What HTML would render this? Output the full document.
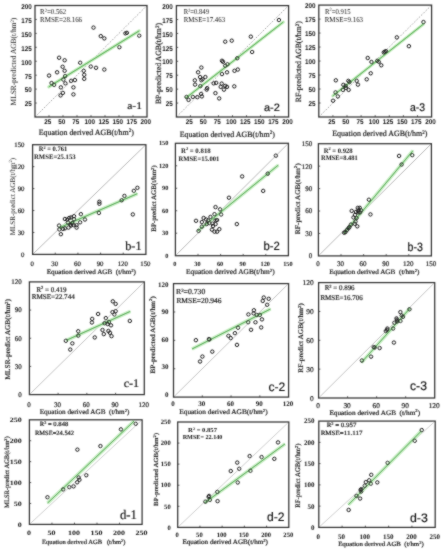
<!DOCTYPE html>
<html><head><meta charset="utf-8"><style>
html,body{margin:0;padding:0;background:#fff;}
svg{display:block;}
text{white-space:pre;}
</style></head><body>
<svg width="446" height="550" viewBox="0 0 446 550" text-rendering="geometricPrecision">
<defs><filter id="bl" filterUnits="userSpaceOnUse" x="0" y="0" width="446" height="550"><feConvolveMatrix order="3" kernelMatrix="1 2 1 2 16 2 1 2 1" divisor="28" edgeMode="duplicate"/></filter></defs>
<rect width="446" height="550" fill="#fff"/>
<g filter="url(#bl)">
<g>
<line x1="35" y1="117" x2="147" y2="5.5" stroke="#7c7c7c" stroke-width="0.7" stroke-dasharray="1.7 1.5"/>
<line x1="48.81" y1="86.87" x2="139.22" y2="30.87" stroke="#bfeab8" stroke-width="3.0" stroke-linecap="round"/>
<line x1="48.81" y1="86.87" x2="139.22" y2="30.87" stroke="#46a846" stroke-width="1.0"/>
<circle cx="93.51" cy="27.6" r="1.7" fill="none" stroke="#1c1c1c" stroke-width="1"/>
<circle cx="100.79" cy="36.14" r="1.7" fill="none" stroke="#1c1c1c" stroke-width="1"/>
<circle cx="104.31" cy="38.4" r="1.7" fill="none" stroke="#1c1c1c" stroke-width="1"/>
<circle cx="125.4" cy="33.38" r="1.7" fill="none" stroke="#1c1c1c" stroke-width="1"/>
<circle cx="126.91" cy="32.87" r="1.7" fill="none" stroke="#1c1c1c" stroke-width="1"/>
<circle cx="139.22" cy="35.64" r="1.7" fill="none" stroke="#1c1c1c" stroke-width="1"/>
<circle cx="119.38" cy="47.19" r="1.7" fill="none" stroke="#1c1c1c" stroke-width="1"/>
<circle cx="59.11" cy="57.74" r="1.7" fill="none" stroke="#1c1c1c" stroke-width="1"/>
<circle cx="64.63" cy="60.25" r="1.7" fill="none" stroke="#1c1c1c" stroke-width="1"/>
<circle cx="80.2" cy="62.76" r="1.7" fill="none" stroke="#1c1c1c" stroke-width="1"/>
<circle cx="62.62" cy="66.78" r="1.7" fill="none" stroke="#1c1c1c" stroke-width="1"/>
<circle cx="64.63" cy="70.79" r="1.7" fill="none" stroke="#1c1c1c" stroke-width="1"/>
<circle cx="90.75" cy="66.52" r="1.7" fill="none" stroke="#1c1c1c" stroke-width="1"/>
<circle cx="96.02" cy="67.78" r="1.7" fill="none" stroke="#1c1c1c" stroke-width="1"/>
<circle cx="104.31" cy="69.54" r="1.7" fill="none" stroke="#1c1c1c" stroke-width="1"/>
<circle cx="83.72" cy="70.79" r="1.7" fill="none" stroke="#1c1c1c" stroke-width="1"/>
<circle cx="84.22" cy="74.81" r="1.7" fill="none" stroke="#1c1c1c" stroke-width="1"/>
<circle cx="57.1" cy="72.3" r="1.7" fill="none" stroke="#1c1c1c" stroke-width="1"/>
<circle cx="49.06" cy="75.57" r="1.7" fill="none" stroke="#1c1c1c" stroke-width="1"/>
<circle cx="65.13" cy="76.07" r="1.7" fill="none" stroke="#1c1c1c" stroke-width="1"/>
<circle cx="63.38" cy="79.58" r="1.7" fill="none" stroke="#1c1c1c" stroke-width="1"/>
<circle cx="84.22" cy="78.83" r="1.7" fill="none" stroke="#1c1c1c" stroke-width="1"/>
<circle cx="51.57" cy="83.1" r="1.7" fill="none" stroke="#1c1c1c" stroke-width="1"/>
<circle cx="54.09" cy="84.86" r="1.7" fill="none" stroke="#1c1c1c" stroke-width="1"/>
<circle cx="65.39" cy="83.35" r="1.7" fill="none" stroke="#1c1c1c" stroke-width="1"/>
<circle cx="71.16" cy="80.84" r="1.7" fill="none" stroke="#1c1c1c" stroke-width="1"/>
<circle cx="74.93" cy="80.09" r="1.7" fill="none" stroke="#1c1c1c" stroke-width="1"/>
<circle cx="60.87" cy="87.37" r="1.7" fill="none" stroke="#1c1c1c" stroke-width="1"/>
<circle cx="73.42" cy="87.37" r="1.7" fill="none" stroke="#1c1c1c" stroke-width="1"/>
<circle cx="62.87" cy="92.89" r="1.7" fill="none" stroke="#1c1c1c" stroke-width="1"/>
<circle cx="60.61" cy="95.4" r="1.7" fill="none" stroke="#1c1c1c" stroke-width="1"/>
<circle cx="73.42" cy="94.4" r="1.7" fill="none" stroke="#1c1c1c" stroke-width="1"/>
<rect x="35" y="5.5" width="112" height="111.5" fill="none" stroke="#333" stroke-width="1.25"/>
<line x1="49" y1="117" x2="49" y2="115.2" stroke="#3a3a3a" stroke-width="0.8"/>
<line x1="35" y1="103.06" x2="36.8" y2="103.06" stroke="#3a3a3a" stroke-width="0.8"/>
<line x1="63" y1="117" x2="63" y2="115.2" stroke="#3a3a3a" stroke-width="0.8"/>
<line x1="35" y1="89.12" x2="36.8" y2="89.12" stroke="#3a3a3a" stroke-width="0.8"/>
<line x1="77" y1="117" x2="77" y2="115.2" stroke="#3a3a3a" stroke-width="0.8"/>
<line x1="35" y1="75.19" x2="36.8" y2="75.19" stroke="#3a3a3a" stroke-width="0.8"/>
<line x1="91" y1="117" x2="91" y2="115.2" stroke="#3a3a3a" stroke-width="0.8"/>
<line x1="35" y1="61.25" x2="36.8" y2="61.25" stroke="#3a3a3a" stroke-width="0.8"/>
<line x1="105" y1="117" x2="105" y2="115.2" stroke="#3a3a3a" stroke-width="0.8"/>
<line x1="35" y1="47.31" x2="36.8" y2="47.31" stroke="#3a3a3a" stroke-width="0.8"/>
<line x1="119" y1="117" x2="119" y2="115.2" stroke="#3a3a3a" stroke-width="0.8"/>
<line x1="35" y1="33.38" x2="36.8" y2="33.38" stroke="#3a3a3a" stroke-width="0.8"/>
<line x1="133" y1="117" x2="133" y2="115.2" stroke="#3a3a3a" stroke-width="0.8"/>
<line x1="35" y1="19.44" x2="36.8" y2="19.44" stroke="#3a3a3a" stroke-width="0.8"/>
<text x="47.8" y="124.3" text-anchor="middle" textLength="7" lengthAdjust="spacingAndGlyphs" font-family="Liberation Sans, Arial, sans-serif" font-size="6.9" font-weight="700" fill="#141414">25</text>
<text x="31.8" y="106.41" text-anchor="end" textLength="7" lengthAdjust="spacingAndGlyphs" font-family="Liberation Sans, Arial, sans-serif" font-size="6.9" font-weight="700" fill="#141414">25</text>
<text x="61.8" y="124.3" text-anchor="middle" textLength="7" lengthAdjust="spacingAndGlyphs" font-family="Liberation Sans, Arial, sans-serif" font-size="6.9" font-weight="700" fill="#141414">50</text>
<text x="31.8" y="92.47" text-anchor="end" textLength="7" lengthAdjust="spacingAndGlyphs" font-family="Liberation Sans, Arial, sans-serif" font-size="6.9" font-weight="700" fill="#141414">50</text>
<text x="75.8" y="124.3" text-anchor="middle" textLength="7" lengthAdjust="spacingAndGlyphs" font-family="Liberation Sans, Arial, sans-serif" font-size="6.9" font-weight="700" fill="#141414">75</text>
<text x="31.8" y="78.53" text-anchor="end" textLength="7" lengthAdjust="spacingAndGlyphs" font-family="Liberation Sans, Arial, sans-serif" font-size="6.9" font-weight="700" fill="#141414">75</text>
<text x="89.8" y="124.3" text-anchor="middle" textLength="10.5" lengthAdjust="spacingAndGlyphs" font-family="Liberation Sans, Arial, sans-serif" font-size="6.9" font-weight="700" fill="#141414">100</text>
<text x="31.8" y="64.6" text-anchor="end" textLength="10.5" lengthAdjust="spacingAndGlyphs" font-family="Liberation Sans, Arial, sans-serif" font-size="6.9" font-weight="700" fill="#141414">100</text>
<text x="103.8" y="124.3" text-anchor="middle" textLength="10.5" lengthAdjust="spacingAndGlyphs" font-family="Liberation Sans, Arial, sans-serif" font-size="6.9" font-weight="700" fill="#141414">125</text>
<text x="31.8" y="50.66" text-anchor="end" textLength="10.5" lengthAdjust="spacingAndGlyphs" font-family="Liberation Sans, Arial, sans-serif" font-size="6.9" font-weight="700" fill="#141414">125</text>
<text x="117.8" y="124.3" text-anchor="middle" textLength="10.5" lengthAdjust="spacingAndGlyphs" font-family="Liberation Sans, Arial, sans-serif" font-size="6.9" font-weight="700" fill="#141414">150</text>
<text x="31.8" y="36.72" text-anchor="end" textLength="10.5" lengthAdjust="spacingAndGlyphs" font-family="Liberation Sans, Arial, sans-serif" font-size="6.9" font-weight="700" fill="#141414">150</text>
<text x="131.8" y="124.3" text-anchor="middle" textLength="10.5" lengthAdjust="spacingAndGlyphs" font-family="Liberation Sans, Arial, sans-serif" font-size="6.9" font-weight="700" fill="#141414">175</text>
<text x="31.8" y="22.78" text-anchor="end" textLength="10.5" lengthAdjust="spacingAndGlyphs" font-family="Liberation Sans, Arial, sans-serif" font-size="6.9" font-weight="700" fill="#141414">175</text>
<text x="145.8" y="124.3" text-anchor="middle" textLength="10.5" lengthAdjust="spacingAndGlyphs" font-family="Liberation Sans, Arial, sans-serif" font-size="6.9" font-weight="700" fill="#141414">200</text>
<text x="31.8" y="8.85" text-anchor="end" textLength="10.5" lengthAdjust="spacingAndGlyphs" font-family="Liberation Sans, Arial, sans-serif" font-size="6.9" font-weight="700" fill="#141414">200</text>
<text x="40.1" y="14.1" textLength="26.1" lengthAdjust="spacingAndGlyphs" font-family="Liberation Serif, Times New Roman, serif" font-size="7.5" font-weight="400" fill="#141414">R<tspan font-size="4.8" dy="-2.33">2</tspan><tspan dy="2.33">=0.562</tspan></text>
<text x="40.1" y="21.5" textLength="42" lengthAdjust="spacingAndGlyphs" font-family="Liberation Serif, Times New Roman, serif" font-size="7.5" font-weight="400" fill="#141414">RMSE=28.166</text>
<text x="38.7" y="134.8" textLength="95.3" lengthAdjust="spacingAndGlyphs" font-family="Liberation Serif, Times New Roman, serif" font-size="8.1" font-weight="400" stroke="#141414" stroke-width="0.18" stroke-linejoin="round" fill="#141414">Equation derived AGB(t/hm<tspan font-size="5.18" dy="-2.51">2</tspan><tspan dy="2.51">)</tspan></text>
<text transform="translate(16.3,105.4) rotate(-90)" textLength="87.7" lengthAdjust="spacingAndGlyphs" font-family="Liberation Serif, Times New Roman, serif" font-size="7.9" font-weight="400" fill="#141414">MLSR-predicted AGB(t/hm<tspan font-size="5.06" dy="-2.45">2</tspan><tspan dy="2.45">)</tspan></text>
<text x="127.2" y="109.1" textLength="14.8" lengthAdjust="spacingAndGlyphs" font-family="Liberation Serif, Times New Roman, serif" font-size="10.08" font-weight="400" stroke="#141414" stroke-width="0.18" stroke-linejoin="round" fill="#141414">a-1</text>
</g>
<g>
<line x1="176.4" y1="117" x2="288.6" y2="5.6" stroke="#7c7c7c" stroke-width="0.7" stroke-dasharray="1.7 1.5"/>
<line x1="186.3" y1="97.66" x2="283.23" y2="22.08" stroke="#bfeab8" stroke-width="3.0" stroke-linecap="round"/>
<line x1="186.3" y1="97.66" x2="283.23" y2="22.08" stroke="#46a846" stroke-width="1.0"/>
<circle cx="278.96" cy="20.07" r="1.7" fill="none" stroke="#1c1c1c" stroke-width="1"/>
<circle cx="250.83" cy="36.64" r="1.7" fill="none" stroke="#1c1c1c" stroke-width="1"/>
<circle cx="252.09" cy="51.96" r="1.7" fill="none" stroke="#1c1c1c" stroke-width="1"/>
<circle cx="225.22" cy="41.66" r="1.7" fill="none" stroke="#1c1c1c" stroke-width="1"/>
<circle cx="231.75" cy="40.66" r="1.7" fill="none" stroke="#1c1c1c" stroke-width="1"/>
<circle cx="221.96" cy="60.75" r="1.7" fill="none" stroke="#1c1c1c" stroke-width="1"/>
<circle cx="222.96" cy="61.75" r="1.7" fill="none" stroke="#1c1c1c" stroke-width="1"/>
<circle cx="225.22" cy="65.77" r="1.7" fill="none" stroke="#1c1c1c" stroke-width="1"/>
<circle cx="227.48" cy="64.26" r="1.7" fill="none" stroke="#1c1c1c" stroke-width="1"/>
<circle cx="237.27" cy="58.24" r="1.7" fill="none" stroke="#1c1c1c" stroke-width="1"/>
<circle cx="201.36" cy="67.53" r="1.7" fill="none" stroke="#1c1c1c" stroke-width="1"/>
<circle cx="198.1" cy="72.3" r="1.7" fill="none" stroke="#1c1c1c" stroke-width="1"/>
<circle cx="234.51" cy="70.79" r="1.7" fill="none" stroke="#1c1c1c" stroke-width="1"/>
<circle cx="237.78" cy="69.54" r="1.7" fill="none" stroke="#1c1c1c" stroke-width="1"/>
<circle cx="226.98" cy="72.3" r="1.7" fill="none" stroke="#1c1c1c" stroke-width="1"/>
<circle cx="221.96" cy="74.06" r="1.7" fill="none" stroke="#1c1c1c" stroke-width="1"/>
<circle cx="200.11" cy="77.07" r="1.7" fill="none" stroke="#1c1c1c" stroke-width="1"/>
<circle cx="205.38" cy="77.07" r="1.7" fill="none" stroke="#1c1c1c" stroke-width="1"/>
<circle cx="202.62" cy="79.33" r="1.7" fill="none" stroke="#1c1c1c" stroke-width="1"/>
<circle cx="201.36" cy="80.34" r="1.7" fill="none" stroke="#1c1c1c" stroke-width="1"/>
<circle cx="194.83" cy="80.34" r="1.7" fill="none" stroke="#1c1c1c" stroke-width="1"/>
<circle cx="195.09" cy="84.61" r="1.7" fill="none" stroke="#1c1c1c" stroke-width="1"/>
<circle cx="200.36" cy="86.11" r="1.7" fill="none" stroke="#1c1c1c" stroke-width="1"/>
<circle cx="207.14" cy="88.12" r="1.7" fill="none" stroke="#1c1c1c" stroke-width="1"/>
<circle cx="206.64" cy="89.63" r="1.7" fill="none" stroke="#1c1c1c" stroke-width="1"/>
<circle cx="213.67" cy="83.35" r="1.7" fill="none" stroke="#1c1c1c" stroke-width="1"/>
<circle cx="216.18" cy="82.85" r="1.7" fill="none" stroke="#1c1c1c" stroke-width="1"/>
<circle cx="221.7" cy="83.6" r="1.7" fill="none" stroke="#1c1c1c" stroke-width="1"/>
<circle cx="220.7" cy="86.87" r="1.7" fill="none" stroke="#1c1c1c" stroke-width="1"/>
<circle cx="225.22" cy="85.86" r="1.7" fill="none" stroke="#1c1c1c" stroke-width="1"/>
<circle cx="226.98" cy="86.87" r="1.7" fill="none" stroke="#1c1c1c" stroke-width="1"/>
<circle cx="223.96" cy="89.63" r="1.7" fill="none" stroke="#1c1c1c" stroke-width="1"/>
<circle cx="234.26" cy="86.36" r="1.7" fill="none" stroke="#1c1c1c" stroke-width="1"/>
<circle cx="215.43" cy="93.14" r="1.7" fill="none" stroke="#1c1c1c" stroke-width="1"/>
<circle cx="219.19" cy="98.42" r="1.7" fill="none" stroke="#1c1c1c" stroke-width="1"/>
<circle cx="201.11" cy="93.9" r="1.7" fill="none" stroke="#1c1c1c" stroke-width="1"/>
<circle cx="201.87" cy="96.41" r="1.7" fill="none" stroke="#1c1c1c" stroke-width="1"/>
<circle cx="197.35" cy="97.16" r="1.7" fill="none" stroke="#1c1c1c" stroke-width="1"/>
<circle cx="192.83" cy="96.91" r="1.7" fill="none" stroke="#1c1c1c" stroke-width="1"/>
<circle cx="186.55" cy="96.91" r="1.7" fill="none" stroke="#1c1c1c" stroke-width="1"/>
<circle cx="188.56" cy="99.92" r="1.7" fill="none" stroke="#1c1c1c" stroke-width="1"/>
<rect x="176.4" y="5.6" width="112.2" height="111.4" fill="none" stroke="#333" stroke-width="1.25"/>
<line x1="190.43" y1="117" x2="190.43" y2="115.2" stroke="#3a3a3a" stroke-width="0.8"/>
<line x1="176.4" y1="103.08" x2="178.2" y2="103.08" stroke="#3a3a3a" stroke-width="0.8"/>
<line x1="204.45" y1="117" x2="204.45" y2="115.2" stroke="#3a3a3a" stroke-width="0.8"/>
<line x1="176.4" y1="89.15" x2="178.2" y2="89.15" stroke="#3a3a3a" stroke-width="0.8"/>
<line x1="218.48" y1="117" x2="218.48" y2="115.2" stroke="#3a3a3a" stroke-width="0.8"/>
<line x1="176.4" y1="75.22" x2="178.2" y2="75.22" stroke="#3a3a3a" stroke-width="0.8"/>
<line x1="232.5" y1="117" x2="232.5" y2="115.2" stroke="#3a3a3a" stroke-width="0.8"/>
<line x1="176.4" y1="61.3" x2="178.2" y2="61.3" stroke="#3a3a3a" stroke-width="0.8"/>
<line x1="246.53" y1="117" x2="246.53" y2="115.2" stroke="#3a3a3a" stroke-width="0.8"/>
<line x1="176.4" y1="47.38" x2="178.2" y2="47.38" stroke="#3a3a3a" stroke-width="0.8"/>
<line x1="260.55" y1="117" x2="260.55" y2="115.2" stroke="#3a3a3a" stroke-width="0.8"/>
<line x1="176.4" y1="33.45" x2="178.2" y2="33.45" stroke="#3a3a3a" stroke-width="0.8"/>
<line x1="274.58" y1="117" x2="274.58" y2="115.2" stroke="#3a3a3a" stroke-width="0.8"/>
<line x1="176.4" y1="19.52" x2="178.2" y2="19.52" stroke="#3a3a3a" stroke-width="0.8"/>
<text x="189.23" y="124.3" text-anchor="middle" textLength="7" lengthAdjust="spacingAndGlyphs" font-family="Liberation Sans, Arial, sans-serif" font-size="6.9" font-weight="700" fill="#141414">25</text>
<text x="172.8" y="106.22" text-anchor="end" textLength="7" lengthAdjust="spacingAndGlyphs" font-family="Liberation Sans, Arial, sans-serif" font-size="6.9" font-weight="700" fill="#141414">25</text>
<text x="203.25" y="124.3" text-anchor="middle" textLength="7" lengthAdjust="spacingAndGlyphs" font-family="Liberation Sans, Arial, sans-serif" font-size="6.9" font-weight="700" fill="#141414">50</text>
<text x="172.8" y="92.3" text-anchor="end" textLength="7" lengthAdjust="spacingAndGlyphs" font-family="Liberation Sans, Arial, sans-serif" font-size="6.9" font-weight="700" fill="#141414">50</text>
<text x="217.28" y="124.3" text-anchor="middle" textLength="7" lengthAdjust="spacingAndGlyphs" font-family="Liberation Sans, Arial, sans-serif" font-size="6.9" font-weight="700" fill="#141414">75</text>
<text x="172.8" y="78.37" text-anchor="end" textLength="7" lengthAdjust="spacingAndGlyphs" font-family="Liberation Sans, Arial, sans-serif" font-size="6.9" font-weight="700" fill="#141414">75</text>
<text x="231.3" y="124.3" text-anchor="middle" textLength="10.5" lengthAdjust="spacingAndGlyphs" font-family="Liberation Sans, Arial, sans-serif" font-size="6.9" font-weight="700" fill="#141414">100</text>
<text x="172.8" y="64.45" text-anchor="end" textLength="10.5" lengthAdjust="spacingAndGlyphs" font-family="Liberation Sans, Arial, sans-serif" font-size="6.9" font-weight="700" fill="#141414">100</text>
<text x="245.33" y="124.3" text-anchor="middle" textLength="10.5" lengthAdjust="spacingAndGlyphs" font-family="Liberation Sans, Arial, sans-serif" font-size="6.9" font-weight="700" fill="#141414">125</text>
<text x="172.8" y="50.52" text-anchor="end" textLength="10.5" lengthAdjust="spacingAndGlyphs" font-family="Liberation Sans, Arial, sans-serif" font-size="6.9" font-weight="700" fill="#141414">125</text>
<text x="259.35" y="124.3" text-anchor="middle" textLength="10.5" lengthAdjust="spacingAndGlyphs" font-family="Liberation Sans, Arial, sans-serif" font-size="6.9" font-weight="700" fill="#141414">150</text>
<text x="172.8" y="36.6" text-anchor="end" textLength="10.5" lengthAdjust="spacingAndGlyphs" font-family="Liberation Sans, Arial, sans-serif" font-size="6.9" font-weight="700" fill="#141414">150</text>
<text x="273.38" y="124.3" text-anchor="middle" textLength="10.5" lengthAdjust="spacingAndGlyphs" font-family="Liberation Sans, Arial, sans-serif" font-size="6.9" font-weight="700" fill="#141414">175</text>
<text x="172.8" y="22.67" text-anchor="end" textLength="10.5" lengthAdjust="spacingAndGlyphs" font-family="Liberation Sans, Arial, sans-serif" font-size="6.9" font-weight="700" fill="#141414">175</text>
<text x="287.4" y="124.3" text-anchor="middle" textLength="10.5" lengthAdjust="spacingAndGlyphs" font-family="Liberation Sans, Arial, sans-serif" font-size="6.9" font-weight="700" fill="#141414">200</text>
<text x="172.8" y="8.75" text-anchor="end" textLength="10.5" lengthAdjust="spacingAndGlyphs" font-family="Liberation Sans, Arial, sans-serif" font-size="6.9" font-weight="700" fill="#141414">200</text>
<text x="183.7" y="14.1" textLength="25.3" lengthAdjust="spacingAndGlyphs" font-family="Liberation Serif, Times New Roman, serif" font-size="7.5" font-weight="400" fill="#141414">R<tspan font-size="4.8" dy="-2.33">2</tspan><tspan dy="2.33">=0.849</tspan></text>
<text x="183.7" y="21.8" textLength="41.4" lengthAdjust="spacingAndGlyphs" font-family="Liberation Serif, Times New Roman, serif" font-size="7.5" font-weight="400" fill="#141414">RMSE=17.463</text>
<text x="179.7" y="136.5" textLength="95.3" lengthAdjust="spacingAndGlyphs" font-family="Liberation Serif, Times New Roman, serif" font-size="8.1" font-weight="400" stroke="#141414" stroke-width="0.18" stroke-linejoin="round" fill="#141414">Equation derived AGB(t/hm<tspan font-size="5.18" dy="-2.51">2</tspan><tspan dy="2.51">)</tspan></text>
<text transform="translate(161.3,104.1) rotate(-90)" textLength="81.1" lengthAdjust="spacingAndGlyphs" font-family="Liberation Serif, Times New Roman, serif" font-size="7.9" font-weight="400" stroke="#141414" stroke-width="0.18" stroke-linejoin="round" fill="#141414">BP-predicted AGB(t/hm<tspan font-size="5.06" dy="-2.45">2</tspan><tspan dy="2.45">)</tspan></text>
<text x="264" y="110.9" textLength="15.9" lengthAdjust="spacingAndGlyphs" font-family="Liberation Sans, Arial, sans-serif" font-size="10.7" font-weight="400" stroke="#141414" stroke-width="0.18" stroke-linejoin="round" fill="#141414">a-2</text>
</g>
<g>
<line x1="318.8" y1="117" x2="431.6" y2="5.1" stroke="#7c7c7c" stroke-width="0.7" stroke-dasharray="1.7 1.5"/>
<line x1="332.81" y1="95.91" x2="423.47" y2="24.09" stroke="#bfeab8" stroke-width="3.0" stroke-linecap="round"/>
<line x1="332.81" y1="95.91" x2="423.47" y2="24.09" stroke="#46a846" stroke-width="1.0"/>
<circle cx="423.47" cy="22.08" r="1.7" fill="none" stroke="#1c1c1c" stroke-width="1"/>
<circle cx="396.85" cy="37.39" r="1.7" fill="none" stroke="#1c1c1c" stroke-width="1"/>
<circle cx="408.9" cy="46.18" r="1.7" fill="none" stroke="#1c1c1c" stroke-width="1"/>
<circle cx="384.79" cy="51.71" r="1.7" fill="none" stroke="#1c1c1c" stroke-width="1"/>
<circle cx="386.05" cy="51.21" r="1.7" fill="none" stroke="#1c1c1c" stroke-width="1"/>
<circle cx="383.79" cy="52.46" r="1.7" fill="none" stroke="#1c1c1c" stroke-width="1"/>
<circle cx="367.72" cy="57.99" r="1.7" fill="none" stroke="#1c1c1c" stroke-width="1"/>
<circle cx="371.48" cy="62" r="1.7" fill="none" stroke="#1c1c1c" stroke-width="1"/>
<circle cx="377.26" cy="60.75" r="1.7" fill="none" stroke="#1c1c1c" stroke-width="1"/>
<circle cx="378.77" cy="61.75" r="1.7" fill="none" stroke="#1c1c1c" stroke-width="1"/>
<circle cx="381.28" cy="65.27" r="1.7" fill="none" stroke="#1c1c1c" stroke-width="1"/>
<circle cx="370.73" cy="73.3" r="1.7" fill="none" stroke="#1c1c1c" stroke-width="1"/>
<circle cx="366.71" cy="79.33" r="1.7" fill="none" stroke="#1c1c1c" stroke-width="1"/>
<circle cx="335.83" cy="80.34" r="1.7" fill="none" stroke="#1c1c1c" stroke-width="1"/>
<circle cx="348.38" cy="80.84" r="1.7" fill="none" stroke="#1c1c1c" stroke-width="1"/>
<circle cx="349.39" cy="82.09" r="1.7" fill="none" stroke="#1c1c1c" stroke-width="1"/>
<circle cx="356.67" cy="80.84" r="1.7" fill="none" stroke="#1c1c1c" stroke-width="1"/>
<circle cx="357.92" cy="84.61" r="1.7" fill="none" stroke="#1c1c1c" stroke-width="1"/>
<circle cx="343.36" cy="84.86" r="1.7" fill="none" stroke="#1c1c1c" stroke-width="1"/>
<circle cx="345.62" cy="85.86" r="1.7" fill="none" stroke="#1c1c1c" stroke-width="1"/>
<circle cx="345.87" cy="87.87" r="1.7" fill="none" stroke="#1c1c1c" stroke-width="1"/>
<circle cx="342.86" cy="89.88" r="1.7" fill="none" stroke="#1c1c1c" stroke-width="1"/>
<circle cx="348.63" cy="89.88" r="1.7" fill="none" stroke="#1c1c1c" stroke-width="1"/>
<circle cx="335.57" cy="92.39" r="1.7" fill="none" stroke="#1c1c1c" stroke-width="1"/>
<circle cx="337.83" cy="96.41" r="1.7" fill="none" stroke="#1c1c1c" stroke-width="1"/>
<circle cx="333.06" cy="100.68" r="1.7" fill="none" stroke="#1c1c1c" stroke-width="1"/>
<rect x="318.8" y="5.1" width="112.8" height="111.9" fill="none" stroke="#333" stroke-width="1.25"/>
<line x1="332.9" y1="117" x2="332.9" y2="115.2" stroke="#3a3a3a" stroke-width="0.8"/>
<line x1="318.8" y1="103.01" x2="320.6" y2="103.01" stroke="#3a3a3a" stroke-width="0.8"/>
<line x1="347" y1="117" x2="347" y2="115.2" stroke="#3a3a3a" stroke-width="0.8"/>
<line x1="318.8" y1="89.03" x2="320.6" y2="89.03" stroke="#3a3a3a" stroke-width="0.8"/>
<line x1="361.1" y1="117" x2="361.1" y2="115.2" stroke="#3a3a3a" stroke-width="0.8"/>
<line x1="318.8" y1="75.04" x2="320.6" y2="75.04" stroke="#3a3a3a" stroke-width="0.8"/>
<line x1="375.2" y1="117" x2="375.2" y2="115.2" stroke="#3a3a3a" stroke-width="0.8"/>
<line x1="318.8" y1="61.05" x2="320.6" y2="61.05" stroke="#3a3a3a" stroke-width="0.8"/>
<line x1="389.3" y1="117" x2="389.3" y2="115.2" stroke="#3a3a3a" stroke-width="0.8"/>
<line x1="318.8" y1="47.06" x2="320.6" y2="47.06" stroke="#3a3a3a" stroke-width="0.8"/>
<line x1="403.4" y1="117" x2="403.4" y2="115.2" stroke="#3a3a3a" stroke-width="0.8"/>
<line x1="318.8" y1="33.07" x2="320.6" y2="33.07" stroke="#3a3a3a" stroke-width="0.8"/>
<line x1="417.5" y1="117" x2="417.5" y2="115.2" stroke="#3a3a3a" stroke-width="0.8"/>
<line x1="318.8" y1="19.09" x2="320.6" y2="19.09" stroke="#3a3a3a" stroke-width="0.8"/>
<text x="331.7" y="124.4" text-anchor="middle" textLength="7" lengthAdjust="spacingAndGlyphs" font-family="Liberation Sans, Arial, sans-serif" font-size="6.9" font-weight="700" fill="#141414">25</text>
<text x="315.4" y="106.36" text-anchor="end" textLength="7" lengthAdjust="spacingAndGlyphs" font-family="Liberation Sans, Arial, sans-serif" font-size="6.9" font-weight="700" fill="#141414">25</text>
<text x="345.8" y="124.4" text-anchor="middle" textLength="7" lengthAdjust="spacingAndGlyphs" font-family="Liberation Sans, Arial, sans-serif" font-size="6.9" font-weight="700" fill="#141414">50</text>
<text x="315.4" y="92.37" text-anchor="end" textLength="7" lengthAdjust="spacingAndGlyphs" font-family="Liberation Sans, Arial, sans-serif" font-size="6.9" font-weight="700" fill="#141414">50</text>
<text x="359.9" y="124.4" text-anchor="middle" textLength="7" lengthAdjust="spacingAndGlyphs" font-family="Liberation Sans, Arial, sans-serif" font-size="6.9" font-weight="700" fill="#141414">75</text>
<text x="315.4" y="78.38" text-anchor="end" textLength="7" lengthAdjust="spacingAndGlyphs" font-family="Liberation Sans, Arial, sans-serif" font-size="6.9" font-weight="700" fill="#141414">75</text>
<text x="374" y="124.4" text-anchor="middle" textLength="10.5" lengthAdjust="spacingAndGlyphs" font-family="Liberation Sans, Arial, sans-serif" font-size="6.9" font-weight="700" fill="#141414">100</text>
<text x="315.4" y="64.4" text-anchor="end" textLength="10.5" lengthAdjust="spacingAndGlyphs" font-family="Liberation Sans, Arial, sans-serif" font-size="6.9" font-weight="700" fill="#141414">100</text>
<text x="388.1" y="124.4" text-anchor="middle" textLength="10.5" lengthAdjust="spacingAndGlyphs" font-family="Liberation Sans, Arial, sans-serif" font-size="6.9" font-weight="700" fill="#141414">125</text>
<text x="315.4" y="50.41" text-anchor="end" textLength="10.5" lengthAdjust="spacingAndGlyphs" font-family="Liberation Sans, Arial, sans-serif" font-size="6.9" font-weight="700" fill="#141414">125</text>
<text x="402.2" y="124.4" text-anchor="middle" textLength="10.5" lengthAdjust="spacingAndGlyphs" font-family="Liberation Sans, Arial, sans-serif" font-size="6.9" font-weight="700" fill="#141414">150</text>
<text x="315.4" y="36.42" text-anchor="end" textLength="10.5" lengthAdjust="spacingAndGlyphs" font-family="Liberation Sans, Arial, sans-serif" font-size="6.9" font-weight="700" fill="#141414">150</text>
<text x="416.3" y="124.4" text-anchor="middle" textLength="10.5" lengthAdjust="spacingAndGlyphs" font-family="Liberation Sans, Arial, sans-serif" font-size="6.9" font-weight="700" fill="#141414">175</text>
<text x="315.4" y="22.43" text-anchor="end" textLength="10.5" lengthAdjust="spacingAndGlyphs" font-family="Liberation Sans, Arial, sans-serif" font-size="6.9" font-weight="700" fill="#141414">175</text>
<text x="430.4" y="124.4" text-anchor="middle" textLength="10.5" lengthAdjust="spacingAndGlyphs" font-family="Liberation Sans, Arial, sans-serif" font-size="6.9" font-weight="700" fill="#141414">200</text>
<text x="315.4" y="8.45" text-anchor="end" textLength="10.5" lengthAdjust="spacingAndGlyphs" font-family="Liberation Sans, Arial, sans-serif" font-size="6.9" font-weight="700" fill="#141414">200</text>
<text x="325" y="13.7" textLength="25.7" lengthAdjust="spacingAndGlyphs" font-family="Liberation Serif, Times New Roman, serif" font-size="7.5" font-weight="400" fill="#141414">R<tspan font-size="4.8" dy="-2.33">2</tspan><tspan dy="2.33">=0.915</tspan></text>
<text x="324.7" y="21.5" textLength="38.4" lengthAdjust="spacingAndGlyphs" font-family="Liberation Serif, Times New Roman, serif" font-size="7.5" font-weight="400" fill="#141414">RMSE=9.163</text>
<text x="332.2" y="136.1" textLength="95.2" lengthAdjust="spacingAndGlyphs" font-family="Liberation Serif, Times New Roman, serif" font-size="8.1" font-weight="400" stroke="#141414" stroke-width="0.18" stroke-linejoin="round" fill="#141414">Equation derived AGB(t/hm<tspan font-size="5.18" dy="-2.51">2</tspan><tspan dy="2.51">)</tspan></text>
<text transform="translate(301,102.3) rotate(-90)" textLength="81.2" lengthAdjust="spacingAndGlyphs" font-family="Liberation Serif, Times New Roman, serif" font-size="7.9" font-weight="400" stroke="#141414" stroke-width="0.18" stroke-linejoin="round" fill="#141414">RF-predicted AGB(t/hm<tspan font-size="5.06" dy="-2.45">2</tspan><tspan dy="2.45">)</tspan></text>
<text x="410" y="111.4" textLength="15.1" lengthAdjust="spacingAndGlyphs" font-family="Liberation Sans, Arial, sans-serif" font-size="11" font-weight="400" stroke="#141414" stroke-width="0.18" stroke-linejoin="round" fill="#141414">a-3</text>
</g>
<g>
<line x1="32.6" y1="254.4" x2="145.9" y2="144.7" stroke="#b0b0b0" stroke-width="0.9"/>
<line x1="59.1" y1="227.86" x2="137.39" y2="193.66" stroke="#c8eec4" stroke-width="3.6"/>
<line x1="59.1" y1="227.86" x2="137.39" y2="193.66" stroke="#3e9e3e" stroke-width="0.95"/>
<circle cx="137.39" cy="187.83" r="1.7" fill="none" stroke="#1c1c1c" stroke-width="1"/>
<circle cx="133.84" cy="190.87" r="1.7" fill="none" stroke="#1c1c1c" stroke-width="1"/>
<circle cx="124.46" cy="195.94" r="1.7" fill="none" stroke="#1c1c1c" stroke-width="1"/>
<circle cx="121.68" cy="200.25" r="1.7" fill="none" stroke="#1c1c1c" stroke-width="1"/>
<circle cx="99.38" cy="201.77" r="1.7" fill="none" stroke="#1c1c1c" stroke-width="1"/>
<circle cx="99.38" cy="203.79" r="1.7" fill="none" stroke="#1c1c1c" stroke-width="1"/>
<circle cx="98.87" cy="212.91" r="1.7" fill="none" stroke="#1c1c1c" stroke-width="1"/>
<circle cx="132.83" cy="214.43" r="1.7" fill="none" stroke="#1c1c1c" stroke-width="1"/>
<circle cx="80.89" cy="214.18" r="1.7" fill="none" stroke="#1c1c1c" stroke-width="1"/>
<circle cx="84.94" cy="219.5" r="1.7" fill="none" stroke="#1c1c1c" stroke-width="1"/>
<circle cx="80.13" cy="222.29" r="1.7" fill="none" stroke="#1c1c1c" stroke-width="1"/>
<circle cx="74.04" cy="216.21" r="1.7" fill="none" stroke="#1c1c1c" stroke-width="1"/>
<circle cx="71" cy="217.48" r="1.7" fill="none" stroke="#1c1c1c" stroke-width="1"/>
<circle cx="74.04" cy="219.25" r="1.7" fill="none" stroke="#1c1c1c" stroke-width="1"/>
<circle cx="69.23" cy="217.98" r="1.7" fill="none" stroke="#1c1c1c" stroke-width="1"/>
<circle cx="64.92" cy="219" r="1.7" fill="none" stroke="#1c1c1c" stroke-width="1"/>
<circle cx="67.2" cy="219.76" r="1.7" fill="none" stroke="#1c1c1c" stroke-width="1"/>
<circle cx="67.96" cy="222.54" r="1.7" fill="none" stroke="#1c1c1c" stroke-width="1"/>
<circle cx="72.27" cy="223.05" r="1.7" fill="none" stroke="#1c1c1c" stroke-width="1"/>
<circle cx="73.54" cy="225.08" r="1.7" fill="none" stroke="#1c1c1c" stroke-width="1"/>
<circle cx="71" cy="225.58" r="1.7" fill="none" stroke="#1c1c1c" stroke-width="1"/>
<circle cx="76.58" cy="225.08" r="1.7" fill="none" stroke="#1c1c1c" stroke-width="1"/>
<circle cx="76.58" cy="227.61" r="1.7" fill="none" stroke="#1c1c1c" stroke-width="1"/>
<circle cx="68.47" cy="227.61" r="1.7" fill="none" stroke="#1c1c1c" stroke-width="1"/>
<circle cx="64.92" cy="228.37" r="1.7" fill="none" stroke="#1c1c1c" stroke-width="1"/>
<circle cx="62.9" cy="228.88" r="1.7" fill="none" stroke="#1c1c1c" stroke-width="1"/>
<circle cx="59.1" cy="225.58" r="1.7" fill="none" stroke="#1c1c1c" stroke-width="1"/>
<circle cx="59.35" cy="229.38" r="1.7" fill="none" stroke="#1c1c1c" stroke-width="1"/>
<circle cx="60.87" cy="234.2" r="1.7" fill="none" stroke="#1c1c1c" stroke-width="1"/>
<circle cx="70.5" cy="224.57" r="1.7" fill="none" stroke="#1c1c1c" stroke-width="1"/>
<rect x="32.6" y="144.7" width="113.3" height="109.7" fill="none" stroke="#333" stroke-width="1.25"/>
<line x1="55.26" y1="254.4" x2="55.26" y2="252.6" stroke="#3a3a3a" stroke-width="0.8"/>
<line x1="32.6" y1="232.46" x2="34.4" y2="232.46" stroke="#3a3a3a" stroke-width="0.8"/>
<line x1="77.92" y1="254.4" x2="77.92" y2="252.6" stroke="#3a3a3a" stroke-width="0.8"/>
<line x1="32.6" y1="210.52" x2="34.4" y2="210.52" stroke="#3a3a3a" stroke-width="0.8"/>
<line x1="100.58" y1="254.4" x2="100.58" y2="252.6" stroke="#3a3a3a" stroke-width="0.8"/>
<line x1="32.6" y1="188.58" x2="34.4" y2="188.58" stroke="#3a3a3a" stroke-width="0.8"/>
<line x1="123.24" y1="254.4" x2="123.24" y2="252.6" stroke="#3a3a3a" stroke-width="0.8"/>
<line x1="32.6" y1="166.64" x2="34.4" y2="166.64" stroke="#3a3a3a" stroke-width="0.8"/>
<text x="32.1" y="265.5" text-anchor="middle" font-family="Liberation Serif, Times New Roman, serif" font-size="6.8" font-weight="400" stroke="#141414" stroke-width="0.18" stroke-linejoin="round" fill="#141414">0</text>
<text x="24.5" y="256.71" text-anchor="end" font-family="Liberation Serif, Times New Roman, serif" font-size="6.8" font-weight="400" stroke="#141414" stroke-width="0.18" stroke-linejoin="round" fill="#141414">0</text>
<text x="54.76" y="265.5" text-anchor="middle" font-family="Liberation Serif, Times New Roman, serif" font-size="6.8" font-weight="400" stroke="#141414" stroke-width="0.18" stroke-linejoin="round" fill="#141414">30</text>
<text x="24.5" y="234.77" text-anchor="end" font-family="Liberation Serif, Times New Roman, serif" font-size="6.8" font-weight="400" stroke="#141414" stroke-width="0.18" stroke-linejoin="round" fill="#141414">30</text>
<text x="77.42" y="265.5" text-anchor="middle" font-family="Liberation Serif, Times New Roman, serif" font-size="6.8" font-weight="400" stroke="#141414" stroke-width="0.18" stroke-linejoin="round" fill="#141414">60</text>
<text x="24.5" y="212.83" text-anchor="end" font-family="Liberation Serif, Times New Roman, serif" font-size="6.8" font-weight="400" stroke="#141414" stroke-width="0.18" stroke-linejoin="round" fill="#141414">60</text>
<text x="100.08" y="265.5" text-anchor="middle" font-family="Liberation Serif, Times New Roman, serif" font-size="6.8" font-weight="400" stroke="#141414" stroke-width="0.18" stroke-linejoin="round" fill="#141414">90</text>
<text x="24.5" y="190.89" text-anchor="end" font-family="Liberation Serif, Times New Roman, serif" font-size="6.8" font-weight="400" stroke="#141414" stroke-width="0.18" stroke-linejoin="round" fill="#141414">90</text>
<text x="122.74" y="265.5" text-anchor="middle" font-family="Liberation Serif, Times New Roman, serif" font-size="6.8" font-weight="400" stroke="#141414" stroke-width="0.18" stroke-linejoin="round" fill="#141414">120</text>
<text x="24.5" y="168.95" text-anchor="end" font-family="Liberation Serif, Times New Roman, serif" font-size="6.8" font-weight="400" stroke="#141414" stroke-width="0.18" stroke-linejoin="round" fill="#141414">120</text>
<text x="145.4" y="265.5" text-anchor="middle" font-family="Liberation Serif, Times New Roman, serif" font-size="6.8" font-weight="400" stroke="#141414" stroke-width="0.18" stroke-linejoin="round" fill="#141414">150</text>
<text x="24.5" y="147.01" text-anchor="end" font-family="Liberation Serif, Times New Roman, serif" font-size="6.8" font-weight="400" stroke="#141414" stroke-width="0.18" stroke-linejoin="round" fill="#141414">150</text>
<text x="38.7" y="150.8" textLength="28.6" lengthAdjust="spacingAndGlyphs" font-family="Liberation Serif, Times New Roman, serif" font-size="6.8" font-weight="700" fill="#141414">R<tspan font-size="4.35" dy="-2.11">2</tspan><tspan dy="2.11"> = 0.761</tspan></text>
<text x="34" y="158.5" textLength="41.7" lengthAdjust="spacingAndGlyphs" font-family="Liberation Serif, Times New Roman, serif" font-size="6.8" font-weight="700" fill="#141414">RMSE=25.153</text>
<text x="46.7" y="273.9" textLength="89.3" lengthAdjust="spacingAndGlyphs" font-family="Liberation Serif, Times New Roman, serif" font-size="6.8" font-weight="400" stroke="#141414" stroke-width="0.18" stroke-linejoin="round" fill="#141414">Equation derived AGB  (t/hm<tspan font-size="4.35" dy="-2.11">2</tspan><tspan dy="2.11">)</tspan></text>
<text transform="translate(14.5,235.2) rotate(-90)" textLength="77.2" lengthAdjust="spacingAndGlyphs" font-family="Liberation Serif, Times New Roman, serif" font-size="7.4" font-weight="400" fill="#141414">MLSR-predict AGB(t/hm<tspan font-size="4.74" dy="-2.29">2</tspan><tspan dy="2.29">)</tspan></text>
<text x="125.2" y="249.9" textLength="16.4" lengthAdjust="spacingAndGlyphs" font-family="Liberation Serif, Times New Roman, serif" font-size="12.6" font-weight="400" stroke="#141414" stroke-width="0.18" stroke-linejoin="round" fill="#141414">b-1</text>
</g>
<g>
<line x1="175.4" y1="255.7" x2="288.4" y2="143.3" stroke="#b0b0b0" stroke-width="0.9"/>
<line x1="197.8" y1="230.92" x2="278.37" y2="165.04" stroke="#c8eec4" stroke-width="3.6"/>
<line x1="197.8" y1="230.92" x2="278.37" y2="165.04" stroke="#3e9e3e" stroke-width="0.95"/>
<circle cx="275.84" cy="155.67" r="1.7" fill="none" stroke="#1c1c1c" stroke-width="1"/>
<circle cx="267.73" cy="173.66" r="1.7" fill="none" stroke="#1c1c1c" stroke-width="1"/>
<circle cx="242.14" cy="176.44" r="1.7" fill="none" stroke="#1c1c1c" stroke-width="1"/>
<circle cx="263.17" cy="190.89" r="1.7" fill="none" stroke="#1c1c1c" stroke-width="1"/>
<circle cx="228.97" cy="197.73" r="1.7" fill="none" stroke="#1c1c1c" stroke-width="1"/>
<circle cx="215.54" cy="207.1" r="1.7" fill="none" stroke="#1c1c1c" stroke-width="1"/>
<circle cx="220.1" cy="209.38" r="1.7" fill="none" stroke="#1c1c1c" stroke-width="1"/>
<circle cx="221.11" cy="214.45" r="1.7" fill="none" stroke="#1c1c1c" stroke-width="1"/>
<circle cx="214.52" cy="214.2" r="1.7" fill="none" stroke="#1c1c1c" stroke-width="1"/>
<circle cx="236.82" cy="224.08" r="1.7" fill="none" stroke="#1c1c1c" stroke-width="1"/>
<circle cx="196.03" cy="220.78" r="1.7" fill="none" stroke="#1c1c1c" stroke-width="1"/>
<circle cx="203.63" cy="218" r="1.7" fill="none" stroke="#1c1c1c" stroke-width="1"/>
<circle cx="206.16" cy="219.52" r="1.7" fill="none" stroke="#1c1c1c" stroke-width="1"/>
<circle cx="210.47" cy="216.98" r="1.7" fill="none" stroke="#1c1c1c" stroke-width="1"/>
<circle cx="208.19" cy="220.53" r="1.7" fill="none" stroke="#1c1c1c" stroke-width="1"/>
<circle cx="209.2" cy="223.06" r="1.7" fill="none" stroke="#1c1c1c" stroke-width="1"/>
<circle cx="212.5" cy="223.57" r="1.7" fill="none" stroke="#1c1c1c" stroke-width="1"/>
<circle cx="215.54" cy="220.28" r="1.7" fill="none" stroke="#1c1c1c" stroke-width="1"/>
<circle cx="217.06" cy="220.02" r="1.7" fill="none" stroke="#1c1c1c" stroke-width="1"/>
<circle cx="201.86" cy="222.05" r="1.7" fill="none" stroke="#1c1c1c" stroke-width="1"/>
<circle cx="201.86" cy="226.61" r="1.7" fill="none" stroke="#1c1c1c" stroke-width="1"/>
<circle cx="213" cy="226.1" r="1.7" fill="none" stroke="#1c1c1c" stroke-width="1"/>
<circle cx="215.54" cy="224.08" r="1.7" fill="none" stroke="#1c1c1c" stroke-width="1"/>
<circle cx="211.99" cy="229.65" r="1.7" fill="none" stroke="#1c1c1c" stroke-width="1"/>
<circle cx="214.52" cy="231.68" r="1.7" fill="none" stroke="#1c1c1c" stroke-width="1"/>
<circle cx="217.06" cy="231.68" r="1.7" fill="none" stroke="#1c1c1c" stroke-width="1"/>
<circle cx="219.34" cy="229.14" r="1.7" fill="none" stroke="#1c1c1c" stroke-width="1"/>
<circle cx="198.56" cy="230.92" r="1.7" fill="none" stroke="#1c1c1c" stroke-width="1"/>
<circle cx="206.67" cy="224.08" r="1.7" fill="none" stroke="#1c1c1c" stroke-width="1"/>
<rect x="175.4" y="143.3" width="113" height="112.4" fill="none" stroke="#333" stroke-width="1.25"/>
<line x1="198" y1="255.7" x2="198" y2="253.9" stroke="#3a3a3a" stroke-width="0.8"/>
<line x1="175.4" y1="233.22" x2="177.2" y2="233.22" stroke="#3a3a3a" stroke-width="0.8"/>
<line x1="220.6" y1="255.7" x2="220.6" y2="253.9" stroke="#3a3a3a" stroke-width="0.8"/>
<line x1="175.4" y1="210.74" x2="177.2" y2="210.74" stroke="#3a3a3a" stroke-width="0.8"/>
<line x1="243.2" y1="255.7" x2="243.2" y2="253.9" stroke="#3a3a3a" stroke-width="0.8"/>
<line x1="175.4" y1="188.26" x2="177.2" y2="188.26" stroke="#3a3a3a" stroke-width="0.8"/>
<line x1="265.8" y1="255.7" x2="265.8" y2="253.9" stroke="#3a3a3a" stroke-width="0.8"/>
<line x1="175.4" y1="165.78" x2="177.2" y2="165.78" stroke="#3a3a3a" stroke-width="0.8"/>
<text x="174.9" y="265.7" text-anchor="middle" font-family="Liberation Serif, Times New Roman, serif" font-size="6.3" font-weight="700" fill="#141414">0</text>
<text x="168.4" y="257.84" text-anchor="end" font-family="Liberation Serif, Times New Roman, serif" font-size="6.3" font-weight="700" fill="#141414">0</text>
<text x="197.5" y="265.7" text-anchor="middle" font-family="Liberation Serif, Times New Roman, serif" font-size="6.3" font-weight="700" fill="#141414">30</text>
<text x="168.4" y="235.36" text-anchor="end" font-family="Liberation Serif, Times New Roman, serif" font-size="6.3" font-weight="700" fill="#141414">30</text>
<text x="220.1" y="265.7" text-anchor="middle" font-family="Liberation Serif, Times New Roman, serif" font-size="6.3" font-weight="700" fill="#141414">60</text>
<text x="168.4" y="212.88" text-anchor="end" font-family="Liberation Serif, Times New Roman, serif" font-size="6.3" font-weight="700" fill="#141414">60</text>
<text x="242.7" y="265.7" text-anchor="middle" font-family="Liberation Serif, Times New Roman, serif" font-size="6.3" font-weight="700" fill="#141414">90</text>
<text x="168.4" y="190.4" text-anchor="end" font-family="Liberation Serif, Times New Roman, serif" font-size="6.3" font-weight="700" fill="#141414">90</text>
<text x="265.3" y="265.7" text-anchor="middle" font-family="Liberation Serif, Times New Roman, serif" font-size="6.3" font-weight="700" fill="#141414">120</text>
<text x="168.4" y="167.92" text-anchor="end" font-family="Liberation Serif, Times New Roman, serif" font-size="6.3" font-weight="700" fill="#141414">120</text>
<text x="287.9" y="265.7" text-anchor="middle" font-family="Liberation Serif, Times New Roman, serif" font-size="6.3" font-weight="700" fill="#141414">150</text>
<text x="168.4" y="145.44" text-anchor="end" font-family="Liberation Serif, Times New Roman, serif" font-size="6.3" font-weight="700" fill="#141414">150</text>
<text x="181" y="152.5" textLength="29.7" lengthAdjust="spacingAndGlyphs" font-family="Liberation Serif, Times New Roman, serif" font-size="6.8" font-weight="700" fill="#141414">R<tspan font-size="4.35" dy="-2.11">2</tspan><tspan dy="2.11"> = 0.818</tspan></text>
<text x="178.4" y="160.6" textLength="41" lengthAdjust="spacingAndGlyphs" font-family="Liberation Serif, Times New Roman, serif" font-size="6.8" font-weight="700" fill="#141414">RMSE=15.001</text>
<text x="186" y="273.9" textLength="88.7" lengthAdjust="spacingAndGlyphs" font-family="Liberation Serif, Times New Roman, serif" font-size="7.3" font-weight="400" stroke="#141414" stroke-width="0.18" stroke-linejoin="round" fill="#141414">Equation derived AGB(t/hm<tspan font-size="4.67" dy="-2.26">2</tspan><tspan dy="2.26">)</tspan></text>
<text transform="translate(155.7,231.8) rotate(-90)" textLength="66.5" lengthAdjust="spacingAndGlyphs" font-family="Liberation Serif, Times New Roman, serif" font-size="6.8" font-weight="400" stroke="#141414" stroke-width="0.18" stroke-linejoin="round" fill="#141414">BP-predict AGB(t/hm<tspan font-size="4.35" dy="-2.11">2</tspan><tspan dy="2.11">)</tspan></text>
<text x="263.5" y="250.3" textLength="16.4" lengthAdjust="spacingAndGlyphs" font-family="Liberation Sans, Arial, sans-serif" font-size="12" font-weight="400" stroke="#141414" stroke-width="0.18" stroke-linejoin="round" fill="#141414">b-2</text>
</g>
<g>
<line x1="318.4" y1="255.9" x2="431.4" y2="143.7" stroke="#b0b0b0" stroke-width="0.9"/>
<line x1="344.1" y1="233.18" x2="413.01" y2="150.59" stroke="#c8eec4" stroke-width="3.6"/>
<line x1="344.1" y1="233.18" x2="413.01" y2="150.59" stroke="#3e9e3e" stroke-width="0.95"/>
<circle cx="399.08" cy="155.91" r="1.7" fill="none" stroke="#1c1c1c" stroke-width="1"/>
<circle cx="412.25" cy="155.15" r="1.7" fill="none" stroke="#1c1c1c" stroke-width="1"/>
<circle cx="401.61" cy="164.52" r="1.7" fill="none" stroke="#1c1c1c" stroke-width="1"/>
<circle cx="368.93" cy="199.74" r="1.7" fill="none" stroke="#1c1c1c" stroke-width="1"/>
<circle cx="370.45" cy="214.43" r="1.7" fill="none" stroke="#1c1c1c" stroke-width="1"/>
<circle cx="357.78" cy="207.85" r="1.7" fill="none" stroke="#1c1c1c" stroke-width="1"/>
<circle cx="359.8" cy="207.85" r="1.7" fill="none" stroke="#1c1c1c" stroke-width="1"/>
<circle cx="358.54" cy="210.38" r="1.7" fill="none" stroke="#1c1c1c" stroke-width="1"/>
<circle cx="361.07" cy="210.38" r="1.7" fill="none" stroke="#1c1c1c" stroke-width="1"/>
<circle cx="360.06" cy="212.41" r="1.7" fill="none" stroke="#1c1c1c" stroke-width="1"/>
<circle cx="351.7" cy="210.89" r="1.7" fill="none" stroke="#1c1c1c" stroke-width="1"/>
<circle cx="356" cy="211.9" r="1.7" fill="none" stroke="#1c1c1c" stroke-width="1"/>
<circle cx="354.99" cy="214.94" r="1.7" fill="none" stroke="#1c1c1c" stroke-width="1"/>
<circle cx="353.47" cy="217.48" r="1.7" fill="none" stroke="#1c1c1c" stroke-width="1"/>
<circle cx="356.51" cy="217.98" r="1.7" fill="none" stroke="#1c1c1c" stroke-width="1"/>
<circle cx="355.5" cy="221.53" r="1.7" fill="none" stroke="#1c1c1c" stroke-width="1"/>
<circle cx="357.27" cy="226.34" r="1.7" fill="none" stroke="#1c1c1c" stroke-width="1"/>
<circle cx="354.74" cy="223.81" r="1.7" fill="none" stroke="#1c1c1c" stroke-width="1"/>
<circle cx="350.94" cy="224.57" r="1.7" fill="none" stroke="#1c1c1c" stroke-width="1"/>
<circle cx="349.42" cy="227.1" r="1.7" fill="none" stroke="#1c1c1c" stroke-width="1"/>
<circle cx="348.4" cy="228.37" r="1.7" fill="none" stroke="#1c1c1c" stroke-width="1"/>
<circle cx="346.88" cy="230.14" r="1.7" fill="none" stroke="#1c1c1c" stroke-width="1"/>
<circle cx="345.36" cy="232.17" r="1.7" fill="none" stroke="#1c1c1c" stroke-width="1"/>
<circle cx="344.1" cy="232.68" r="1.7" fill="none" stroke="#1c1c1c" stroke-width="1"/>
<circle cx="358.03" cy="212.41" r="1.7" fill="none" stroke="#1c1c1c" stroke-width="1"/>
<rect x="318.4" y="143.7" width="113" height="112.2" fill="none" stroke="#333" stroke-width="1.25"/>
<line x1="341" y1="255.9" x2="341" y2="254.1" stroke="#3a3a3a" stroke-width="0.8"/>
<line x1="318.4" y1="233.46" x2="320.2" y2="233.46" stroke="#3a3a3a" stroke-width="0.8"/>
<line x1="363.6" y1="255.9" x2="363.6" y2="254.1" stroke="#3a3a3a" stroke-width="0.8"/>
<line x1="318.4" y1="211.02" x2="320.2" y2="211.02" stroke="#3a3a3a" stroke-width="0.8"/>
<line x1="386.2" y1="255.9" x2="386.2" y2="254.1" stroke="#3a3a3a" stroke-width="0.8"/>
<line x1="318.4" y1="188.58" x2="320.2" y2="188.58" stroke="#3a3a3a" stroke-width="0.8"/>
<line x1="408.8" y1="255.9" x2="408.8" y2="254.1" stroke="#3a3a3a" stroke-width="0.8"/>
<line x1="318.4" y1="166.14" x2="320.2" y2="166.14" stroke="#3a3a3a" stroke-width="0.8"/>
<text x="317.9" y="266.1" text-anchor="middle" font-family="Liberation Serif, Times New Roman, serif" font-size="7" font-weight="400" stroke="#141414" stroke-width="0.18" stroke-linejoin="round" fill="#141414">0</text>
<text x="312.3" y="258.28" text-anchor="end" font-family="Liberation Serif, Times New Roman, serif" font-size="7" font-weight="400" stroke="#141414" stroke-width="0.18" stroke-linejoin="round" fill="#141414">0</text>
<text x="340.5" y="266.1" text-anchor="middle" font-family="Liberation Serif, Times New Roman, serif" font-size="7" font-weight="400" stroke="#141414" stroke-width="0.18" stroke-linejoin="round" fill="#141414">30</text>
<text x="312.3" y="235.84" text-anchor="end" font-family="Liberation Serif, Times New Roman, serif" font-size="7" font-weight="400" stroke="#141414" stroke-width="0.18" stroke-linejoin="round" fill="#141414">30</text>
<text x="363.1" y="266.1" text-anchor="middle" font-family="Liberation Serif, Times New Roman, serif" font-size="7" font-weight="400" stroke="#141414" stroke-width="0.18" stroke-linejoin="round" fill="#141414">60</text>
<text x="312.3" y="213.4" text-anchor="end" font-family="Liberation Serif, Times New Roman, serif" font-size="7" font-weight="400" stroke="#141414" stroke-width="0.18" stroke-linejoin="round" fill="#141414">60</text>
<text x="385.7" y="266.1" text-anchor="middle" font-family="Liberation Serif, Times New Roman, serif" font-size="7" font-weight="400" stroke="#141414" stroke-width="0.18" stroke-linejoin="round" fill="#141414">90</text>
<text x="312.3" y="190.96" text-anchor="end" font-family="Liberation Serif, Times New Roman, serif" font-size="7" font-weight="400" stroke="#141414" stroke-width="0.18" stroke-linejoin="round" fill="#141414">90</text>
<text x="408.3" y="266.1" text-anchor="middle" font-family="Liberation Serif, Times New Roman, serif" font-size="7" font-weight="400" stroke="#141414" stroke-width="0.18" stroke-linejoin="round" fill="#141414">120</text>
<text x="312.3" y="168.52" text-anchor="end" font-family="Liberation Serif, Times New Roman, serif" font-size="7" font-weight="400" stroke="#141414" stroke-width="0.18" stroke-linejoin="round" fill="#141414">120</text>
<text x="430.9" y="266.1" text-anchor="middle" font-family="Liberation Serif, Times New Roman, serif" font-size="7" font-weight="400" stroke="#141414" stroke-width="0.18" stroke-linejoin="round" fill="#141414">150</text>
<text x="312.3" y="146.08" text-anchor="end" font-family="Liberation Serif, Times New Roman, serif" font-size="7" font-weight="400" stroke="#141414" stroke-width="0.18" stroke-linejoin="round" fill="#141414">150</text>
<text x="323.7" y="152.5" textLength="29" lengthAdjust="spacingAndGlyphs" font-family="Liberation Serif, Times New Roman, serif" font-size="6.8" font-weight="700" fill="#141414">R<tspan font-size="4.35" dy="-2.11">2</tspan><tspan dy="2.11"> = 0.928</tspan></text>
<text x="321" y="160.2" textLength="36.7" lengthAdjust="spacingAndGlyphs" font-family="Liberation Serif, Times New Roman, serif" font-size="6.8" font-weight="700" fill="#141414">RMSE=8.481</text>
<text x="329.2" y="274.2" textLength="90.2" lengthAdjust="spacingAndGlyphs" font-family="Liberation Serif, Times New Roman, serif" font-size="6.9" font-weight="400" stroke="#141414" stroke-width="0.18" stroke-linejoin="round" fill="#141414">Equation derived AGB  (t/hm<tspan font-size="4.42" dy="-2.14">2</tspan><tspan dy="2.14">)</tspan></text>
<text transform="translate(299.5,234.3) rotate(-90)" textLength="71.1" lengthAdjust="spacingAndGlyphs" font-family="Liberation Serif, Times New Roman, serif" font-size="7.1" font-weight="400" stroke="#141414" stroke-width="0.18" stroke-linejoin="round" fill="#141414">RF-predict AGB(t/hm<tspan font-size="4.54" dy="-2.2">2</tspan><tspan dy="2.2">)</tspan></text>
<text x="407.6" y="250.5" textLength="15.3" lengthAdjust="spacingAndGlyphs" font-family="Liberation Sans, Arial, sans-serif" font-size="12" font-weight="400" stroke="#141414" stroke-width="0.18" stroke-linejoin="round" fill="#141414">b-3</text>
</g>
<g>
<line x1="29.4" y1="394.6" x2="144.3" y2="281.9" stroke="#bcbcbc" stroke-width="0.9"/>
<line x1="66.39" y1="340.27" x2="130.33" y2="311.39" stroke="#c8eec4" stroke-width="3.6"/>
<line x1="66.39" y1="340.27" x2="130.33" y2="311.39" stroke="#3e9e3e" stroke-width="0.95"/>
<circle cx="112.8" cy="301.34" r="1.7" fill="none" stroke="#1c1c1c" stroke-width="1"/>
<circle cx="115.64" cy="303.92" r="1.7" fill="none" stroke="#1c1c1c" stroke-width="1"/>
<circle cx="115.64" cy="311.14" r="1.7" fill="none" stroke="#1c1c1c" stroke-width="1"/>
<circle cx="112.54" cy="312.17" r="1.7" fill="none" stroke="#1c1c1c" stroke-width="1"/>
<circle cx="114.35" cy="314.49" r="1.7" fill="none" stroke="#1c1c1c" stroke-width="1"/>
<circle cx="129.82" cy="320.93" r="1.7" fill="none" stroke="#1c1c1c" stroke-width="1"/>
<circle cx="98.1" cy="313.97" r="1.7" fill="none" stroke="#1c1c1c" stroke-width="1"/>
<circle cx="92.17" cy="318.87" r="1.7" fill="none" stroke="#1c1c1c" stroke-width="1"/>
<circle cx="91.91" cy="322.48" r="1.7" fill="none" stroke="#1c1c1c" stroke-width="1"/>
<circle cx="105.84" cy="318.1" r="1.7" fill="none" stroke="#1c1c1c" stroke-width="1"/>
<circle cx="104.55" cy="323.26" r="1.7" fill="none" stroke="#1c1c1c" stroke-width="1"/>
<circle cx="108.93" cy="321.97" r="1.7" fill="none" stroke="#1c1c1c" stroke-width="1"/>
<circle cx="111" cy="325.32" r="1.7" fill="none" stroke="#1c1c1c" stroke-width="1"/>
<circle cx="107.64" cy="324.03" r="1.7" fill="none" stroke="#1c1c1c" stroke-width="1"/>
<circle cx="102.49" cy="329.96" r="1.7" fill="none" stroke="#1c1c1c" stroke-width="1"/>
<circle cx="108.42" cy="330.99" r="1.7" fill="none" stroke="#1c1c1c" stroke-width="1"/>
<circle cx="109.96" cy="332.8" r="1.7" fill="none" stroke="#1c1c1c" stroke-width="1"/>
<circle cx="103.78" cy="334.09" r="1.7" fill="none" stroke="#1c1c1c" stroke-width="1"/>
<circle cx="111.51" cy="336.15" r="1.7" fill="none" stroke="#1c1c1c" stroke-width="1"/>
<circle cx="94.75" cy="337.44" r="1.7" fill="none" stroke="#1c1c1c" stroke-width="1"/>
<circle cx="78.25" cy="331.25" r="1.7" fill="none" stroke="#1c1c1c" stroke-width="1"/>
<circle cx="78.25" cy="335.63" r="1.7" fill="none" stroke="#1c1c1c" stroke-width="1"/>
<circle cx="65.87" cy="340.79" r="1.7" fill="none" stroke="#1c1c1c" stroke-width="1"/>
<circle cx="72.32" cy="343.37" r="1.7" fill="none" stroke="#1c1c1c" stroke-width="1"/>
<circle cx="70.26" cy="349.56" r="1.7" fill="none" stroke="#1c1c1c" stroke-width="1"/>
<rect x="29.4" y="281.9" width="114.9" height="112.7" fill="none" stroke="#333" stroke-width="1.25"/>
<line x1="58.12" y1="394.6" x2="58.12" y2="392.8" stroke="#3a3a3a" stroke-width="0.8"/>
<line x1="29.4" y1="366.43" x2="31.2" y2="366.43" stroke="#3a3a3a" stroke-width="0.8"/>
<line x1="86.85" y1="394.6" x2="86.85" y2="392.8" stroke="#3a3a3a" stroke-width="0.8"/>
<line x1="29.4" y1="338.25" x2="31.2" y2="338.25" stroke="#3a3a3a" stroke-width="0.8"/>
<line x1="115.58" y1="394.6" x2="115.58" y2="392.8" stroke="#3a3a3a" stroke-width="0.8"/>
<line x1="29.4" y1="310.07" x2="31.2" y2="310.07" stroke="#3a3a3a" stroke-width="0.8"/>
<text x="28.9" y="406.8" text-anchor="middle" font-family="Liberation Serif, Times New Roman, serif" font-size="7" font-weight="400" stroke="#141414" stroke-width="0.18" stroke-linejoin="round" fill="#141414">0</text>
<text x="21.8" y="396.98" text-anchor="end" font-family="Liberation Serif, Times New Roman, serif" font-size="7" font-weight="400" stroke="#141414" stroke-width="0.18" stroke-linejoin="round" fill="#141414">0</text>
<text x="57.62" y="406.8" text-anchor="middle" font-family="Liberation Serif, Times New Roman, serif" font-size="7" font-weight="400" stroke="#141414" stroke-width="0.18" stroke-linejoin="round" fill="#141414">30</text>
<text x="21.8" y="368.81" text-anchor="end" font-family="Liberation Serif, Times New Roman, serif" font-size="7" font-weight="400" stroke="#141414" stroke-width="0.18" stroke-linejoin="round" fill="#141414">30</text>
<text x="86.35" y="406.8" text-anchor="middle" font-family="Liberation Serif, Times New Roman, serif" font-size="7" font-weight="400" stroke="#141414" stroke-width="0.18" stroke-linejoin="round" fill="#141414">60</text>
<text x="21.8" y="340.63" text-anchor="end" font-family="Liberation Serif, Times New Roman, serif" font-size="7" font-weight="400" stroke="#141414" stroke-width="0.18" stroke-linejoin="round" fill="#141414">60</text>
<text x="115.08" y="406.8" text-anchor="middle" font-family="Liberation Serif, Times New Roman, serif" font-size="7" font-weight="400" stroke="#141414" stroke-width="0.18" stroke-linejoin="round" fill="#141414">90</text>
<text x="21.8" y="312.45" text-anchor="end" font-family="Liberation Serif, Times New Roman, serif" font-size="7" font-weight="400" stroke="#141414" stroke-width="0.18" stroke-linejoin="round" fill="#141414">90</text>
<text x="143.8" y="406.8" text-anchor="middle" font-family="Liberation Serif, Times New Roman, serif" font-size="7" font-weight="400" stroke="#141414" stroke-width="0.18" stroke-linejoin="round" fill="#141414">120</text>
<text x="21.8" y="284.28" text-anchor="end" font-family="Liberation Serif, Times New Roman, serif" font-size="7" font-weight="400" stroke="#141414" stroke-width="0.18" stroke-linejoin="round" fill="#141414">120</text>
<text x="36.4" y="291.5" textLength="30" lengthAdjust="spacingAndGlyphs" font-family="Liberation Serif, Times New Roman, serif" font-size="7.2" font-weight="400" stroke="#141414" stroke-width="0.18" stroke-linejoin="round" fill="#141414">R<tspan font-size="4.61" dy="-2.23">2</tspan><tspan dy="2.23"> = 0.419</tspan></text>
<text x="31.7" y="299.4" textLength="43.1" lengthAdjust="spacingAndGlyphs" font-family="Liberation Serif, Times New Roman, serif" font-size="7.2" font-weight="400" stroke="#141414" stroke-width="0.18" stroke-linejoin="round" fill="#141414">RMSE=22.744</text>
<text x="39.7" y="414.2" textLength="89.7" lengthAdjust="spacingAndGlyphs" font-family="Liberation Serif, Times New Roman, serif" font-size="7" font-weight="400" stroke="#141414" stroke-width="0.18" stroke-linejoin="round" fill="#141414">Equation derived AGB  (t/hm<tspan font-size="4.48" dy="-2.17">2</tspan><tspan dy="2.17">)</tspan></text>
<text transform="translate(9.8,379.4) rotate(-90)" textLength="80.3" lengthAdjust="spacingAndGlyphs" font-family="Liberation Serif, Times New Roman, serif" font-size="7.2" font-weight="400" stroke="#141414" stroke-width="0.18" stroke-linejoin="round" fill="#141414">MLSR-predict AGB(t/hm<tspan font-size="4.61" dy="-2.23">2</tspan><tspan dy="2.23">)</tspan></text>
<text x="123.7" y="386.8" textLength="15.5" lengthAdjust="spacingAndGlyphs" font-family="Liberation Serif, Times New Roman, serif" font-size="11.76" font-weight="400" stroke="#141414" stroke-width="0.18" stroke-linejoin="round" fill="#141414">c-1</text>
</g>
<g>
<line x1="173.5" y1="397.1" x2="288.6" y2="283.6" stroke="#bcbcbc" stroke-width="0.9"/>
<line x1="191.99" y1="349.02" x2="270.53" y2="308.97" stroke="#c8eec4" stroke-width="3.6"/>
<line x1="191.99" y1="349.02" x2="270.53" y2="308.97" stroke="#3e9e3e" stroke-width="0.95"/>
<circle cx="263.77" cy="297.52" r="1.7" fill="none" stroke="#1c1c1c" stroke-width="1"/>
<circle cx="268.71" cy="298.83" r="1.7" fill="none" stroke="#1c1c1c" stroke-width="1"/>
<circle cx="262.73" cy="300.91" r="1.7" fill="none" stroke="#1c1c1c" stroke-width="1"/>
<circle cx="267.15" cy="304.81" r="1.7" fill="none" stroke="#1c1c1c" stroke-width="1"/>
<circle cx="253.89" cy="310.27" r="1.7" fill="none" stroke="#1c1c1c" stroke-width="1"/>
<circle cx="248.43" cy="314.43" r="1.7" fill="none" stroke="#1c1c1c" stroke-width="1"/>
<circle cx="253.63" cy="313.39" r="1.7" fill="none" stroke="#1c1c1c" stroke-width="1"/>
<circle cx="256.75" cy="314.95" r="1.7" fill="none" stroke="#1c1c1c" stroke-width="1"/>
<circle cx="259.87" cy="314.95" r="1.7" fill="none" stroke="#1c1c1c" stroke-width="1"/>
<circle cx="261.95" cy="319.37" r="1.7" fill="none" stroke="#1c1c1c" stroke-width="1"/>
<circle cx="248.17" cy="322.23" r="1.7" fill="none" stroke="#1c1c1c" stroke-width="1"/>
<circle cx="255.45" cy="322.23" r="1.7" fill="none" stroke="#1c1c1c" stroke-width="1"/>
<circle cx="261.17" cy="327.43" r="1.7" fill="none" stroke="#1c1c1c" stroke-width="1"/>
<circle cx="251.03" cy="329.78" r="1.7" fill="none" stroke="#1c1c1c" stroke-width="1"/>
<circle cx="238.02" cy="327.7" r="1.7" fill="none" stroke="#1c1c1c" stroke-width="1"/>
<circle cx="234.9" cy="333.16" r="1.7" fill="none" stroke="#1c1c1c" stroke-width="1"/>
<circle cx="228.4" cy="335.76" r="1.7" fill="none" stroke="#1c1c1c" stroke-width="1"/>
<circle cx="230.74" cy="338.1" r="1.7" fill="none" stroke="#1c1c1c" stroke-width="1"/>
<circle cx="236.98" cy="344.86" r="1.7" fill="none" stroke="#1c1c1c" stroke-width="1"/>
<circle cx="208.89" cy="339.14" r="1.7" fill="none" stroke="#1c1c1c" stroke-width="1"/>
<circle cx="209.41" cy="339.4" r="1.7" fill="none" stroke="#1c1c1c" stroke-width="1"/>
<circle cx="195.89" cy="340.18" r="1.7" fill="none" stroke="#1c1c1c" stroke-width="1"/>
<circle cx="212.27" cy="351.62" r="1.7" fill="none" stroke="#1c1c1c" stroke-width="1"/>
<circle cx="202.39" cy="356.57" r="1.7" fill="none" stroke="#1c1c1c" stroke-width="1"/>
<circle cx="200.05" cy="361.51" r="1.7" fill="none" stroke="#1c1c1c" stroke-width="1"/>
<rect x="173.5" y="283.6" width="115.1" height="113.5" fill="none" stroke="#333" stroke-width="1.25"/>
<line x1="202.28" y1="397.1" x2="202.28" y2="395.3" stroke="#3a3a3a" stroke-width="0.8"/>
<line x1="173.5" y1="368.73" x2="175.3" y2="368.73" stroke="#3a3a3a" stroke-width="0.8"/>
<line x1="231.05" y1="397.1" x2="231.05" y2="395.3" stroke="#3a3a3a" stroke-width="0.8"/>
<line x1="173.5" y1="340.35" x2="175.3" y2="340.35" stroke="#3a3a3a" stroke-width="0.8"/>
<line x1="259.83" y1="397.1" x2="259.83" y2="395.3" stroke="#3a3a3a" stroke-width="0.8"/>
<line x1="173.5" y1="311.98" x2="175.3" y2="311.98" stroke="#3a3a3a" stroke-width="0.8"/>
<text x="173" y="406.1" text-anchor="middle" font-family="Liberation Serif, Times New Roman, serif" font-size="7" font-weight="600" fill="#141414">0</text>
<text x="168.5" y="396.88" text-anchor="end" font-family="Liberation Serif, Times New Roman, serif" font-size="7" font-weight="600" fill="#141414">0</text>
<text x="201.78" y="406.1" text-anchor="middle" font-family="Liberation Serif, Times New Roman, serif" font-size="7" font-weight="600" fill="#141414">30</text>
<text x="168.5" y="369.36" text-anchor="end" font-family="Liberation Serif, Times New Roman, serif" font-size="7" font-weight="600" fill="#141414">30</text>
<text x="230.55" y="406.1" text-anchor="middle" font-family="Liberation Serif, Times New Roman, serif" font-size="7" font-weight="600" fill="#141414">60</text>
<text x="168.5" y="341.83" text-anchor="end" font-family="Liberation Serif, Times New Roman, serif" font-size="7" font-weight="600" fill="#141414">60</text>
<text x="259.33" y="406.1" text-anchor="middle" font-family="Liberation Serif, Times New Roman, serif" font-size="7" font-weight="600" fill="#141414">90</text>
<text x="168.5" y="314.31" text-anchor="end" font-family="Liberation Serif, Times New Roman, serif" font-size="7" font-weight="600" fill="#141414">90</text>
<text x="288.1" y="406.1" text-anchor="middle" font-family="Liberation Serif, Times New Roman, serif" font-size="7" font-weight="600" fill="#141414">120</text>
<text x="168.5" y="286.78" text-anchor="end" font-family="Liberation Serif, Times New Roman, serif" font-size="7" font-weight="600" fill="#141414">120</text>
<text x="176" y="294" textLength="29.3" lengthAdjust="spacingAndGlyphs" font-family="Liberation Serif, Times New Roman, serif" font-size="7.6" font-weight="400" stroke="#141414" stroke-width="0.18" stroke-linejoin="round" fill="#141414">R<tspan font-size="4.86" dy="-2.36">2</tspan><tspan dy="2.36">=0.730</tspan></text>
<text x="176.4" y="302.8" textLength="45.1" lengthAdjust="spacingAndGlyphs" font-family="Liberation Serif, Times New Roman, serif" font-size="7.6" font-weight="400" stroke="#141414" stroke-width="0.18" stroke-linejoin="round" fill="#141414">RMSE=20.946</text>
<text x="179.2" y="414.2" textLength="88.5" lengthAdjust="spacingAndGlyphs" font-family="Liberation Serif, Times New Roman, serif" font-size="7" font-weight="400" stroke="#141414" stroke-width="0.18" stroke-linejoin="round" fill="#141414">Equation derived AGB(t/hm<tspan font-size="4.48" dy="-2.17">2</tspan><tspan dy="2.17">)</tspan></text>
<text transform="translate(154.5,373.6) rotate(-90)" textLength="77.4" lengthAdjust="spacingAndGlyphs" font-family="Liberation Serif, Times New Roman, serif" font-size="6.8" font-weight="400" stroke="#141414" stroke-width="0.18" stroke-linejoin="round" fill="#141414">BP-predicted AGB(t/hm<tspan font-size="4.35" dy="-2.11">2</tspan><tspan dy="2.11">)</tspan></text>
<text x="268.5" y="390.8" textLength="16.8" lengthAdjust="spacingAndGlyphs" font-family="Liberation Sans, Arial, sans-serif" font-size="12.3" font-weight="400" stroke="#141414" stroke-width="0.18" stroke-linejoin="round" fill="#141414">c-2</text>
</g>
<g>
<line x1="318.6" y1="398" x2="434.7" y2="282.6" stroke="#bcbcbc" stroke-width="0.9"/>
<line x1="361.39" y1="362.59" x2="410.03" y2="308.23" stroke="#c8eec4" stroke-width="3.6"/>
<line x1="361.39" y1="362.59" x2="410.03" y2="308.23" stroke="#3e9e3e" stroke-width="0.95"/>
<circle cx="409.51" cy="309.27" r="1.7" fill="none" stroke="#1c1c1c" stroke-width="1"/>
<circle cx="400.41" cy="312.13" r="1.7" fill="none" stroke="#1c1c1c" stroke-width="1"/>
<circle cx="401.71" cy="315.51" r="1.7" fill="none" stroke="#1c1c1c" stroke-width="1"/>
<circle cx="403.01" cy="316.81" r="1.7" fill="none" stroke="#1c1c1c" stroke-width="1"/>
<circle cx="396.51" cy="318.37" r="1.7" fill="none" stroke="#1c1c1c" stroke-width="1"/>
<circle cx="397.03" cy="319.67" r="1.7" fill="none" stroke="#1c1c1c" stroke-width="1"/>
<circle cx="394.43" cy="322.79" r="1.7" fill="none" stroke="#1c1c1c" stroke-width="1"/>
<circle cx="400.41" cy="320.97" r="1.7" fill="none" stroke="#1c1c1c" stroke-width="1"/>
<circle cx="397.03" cy="321.49" r="1.7" fill="none" stroke="#1c1c1c" stroke-width="1"/>
<circle cx="393.13" cy="328.52" r="1.7" fill="none" stroke="#1c1c1c" stroke-width="1"/>
<circle cx="387.4" cy="328.52" r="1.7" fill="none" stroke="#1c1c1c" stroke-width="1"/>
<circle cx="385.84" cy="331.12" r="1.7" fill="none" stroke="#1c1c1c" stroke-width="1"/>
<circle cx="387.14" cy="329.82" r="1.7" fill="none" stroke="#1c1c1c" stroke-width="1"/>
<circle cx="393.91" cy="342.56" r="1.7" fill="none" stroke="#1c1c1c" stroke-width="1"/>
<circle cx="373.62" cy="346.98" r="1.7" fill="none" stroke="#1c1c1c" stroke-width="1"/>
<circle cx="374.66" cy="347.5" r="1.7" fill="none" stroke="#1c1c1c" stroke-width="1"/>
<circle cx="379.6" cy="348.02" r="1.7" fill="none" stroke="#1c1c1c" stroke-width="1"/>
<circle cx="371.02" cy="356.61" r="1.7" fill="none" stroke="#1c1c1c" stroke-width="1"/>
<circle cx="361.91" cy="360.51" r="1.7" fill="none" stroke="#1c1c1c" stroke-width="1"/>
<rect x="318.6" y="282.6" width="116.1" height="115.4" fill="none" stroke="#333" stroke-width="1.25"/>
<line x1="347.62" y1="398" x2="347.62" y2="396.2" stroke="#3a3a3a" stroke-width="0.8"/>
<line x1="318.6" y1="369.15" x2="320.4" y2="369.15" stroke="#3a3a3a" stroke-width="0.8"/>
<line x1="376.65" y1="398" x2="376.65" y2="396.2" stroke="#3a3a3a" stroke-width="0.8"/>
<line x1="318.6" y1="340.3" x2="320.4" y2="340.3" stroke="#3a3a3a" stroke-width="0.8"/>
<line x1="405.68" y1="398" x2="405.68" y2="396.2" stroke="#3a3a3a" stroke-width="0.8"/>
<line x1="318.6" y1="311.45" x2="320.4" y2="311.45" stroke="#3a3a3a" stroke-width="0.8"/>
<text x="318.1" y="407.8" text-anchor="middle" font-family="Liberation Serif, Times New Roman, serif" font-size="7.4" font-weight="400" stroke="#141414" stroke-width="0.18" stroke-linejoin="round" fill="#141414">0</text>
<text x="313.6" y="400.52" text-anchor="end" font-family="Liberation Serif, Times New Roman, serif" font-size="7.4" font-weight="400" stroke="#141414" stroke-width="0.18" stroke-linejoin="round" fill="#141414">0</text>
<text x="347.12" y="407.8" text-anchor="middle" font-family="Liberation Serif, Times New Roman, serif" font-size="7.4" font-weight="400" stroke="#141414" stroke-width="0.18" stroke-linejoin="round" fill="#141414">30</text>
<text x="313.6" y="371.67" text-anchor="end" font-family="Liberation Serif, Times New Roman, serif" font-size="7.4" font-weight="400" stroke="#141414" stroke-width="0.18" stroke-linejoin="round" fill="#141414">30</text>
<text x="376.15" y="407.8" text-anchor="middle" font-family="Liberation Serif, Times New Roman, serif" font-size="7.4" font-weight="400" stroke="#141414" stroke-width="0.18" stroke-linejoin="round" fill="#141414">60</text>
<text x="313.6" y="342.82" text-anchor="end" font-family="Liberation Serif, Times New Roman, serif" font-size="7.4" font-weight="400" stroke="#141414" stroke-width="0.18" stroke-linejoin="round" fill="#141414">60</text>
<text x="405.18" y="407.8" text-anchor="middle" font-family="Liberation Serif, Times New Roman, serif" font-size="7.4" font-weight="400" stroke="#141414" stroke-width="0.18" stroke-linejoin="round" fill="#141414">90</text>
<text x="313.6" y="313.97" text-anchor="end" font-family="Liberation Serif, Times New Roman, serif" font-size="7.4" font-weight="400" stroke="#141414" stroke-width="0.18" stroke-linejoin="round" fill="#141414">90</text>
<text x="434.2" y="407.8" text-anchor="middle" font-family="Liberation Serif, Times New Roman, serif" font-size="7.4" font-weight="400" stroke="#141414" stroke-width="0.18" stroke-linejoin="round" fill="#141414">120</text>
<text x="313.6" y="285.12" text-anchor="end" font-family="Liberation Serif, Times New Roman, serif" font-size="7.4" font-weight="400" stroke="#141414" stroke-width="0.18" stroke-linejoin="round" fill="#141414">120</text>
<text x="324.7" y="290.3" textLength="29.9" lengthAdjust="spacingAndGlyphs" font-family="Liberation Serif, Times New Roman, serif" font-size="7.2" font-weight="400" stroke="#141414" stroke-width="0.18" stroke-linejoin="round" fill="#141414">R<tspan font-size="4.61" dy="-2.23">2</tspan><tspan dy="2.23"> = 0.896</tspan></text>
<text x="320.4" y="299.5" textLength="42.3" lengthAdjust="spacingAndGlyphs" font-family="Liberation Serif, Times New Roman, serif" font-size="7.2" font-weight="400" stroke="#141414" stroke-width="0.18" stroke-linejoin="round" fill="#141414">RMSE=16.706</text>
<text x="329.4" y="414.6" textLength="90.7" lengthAdjust="spacingAndGlyphs" font-family="Liberation Serif, Times New Roman, serif" font-size="6.8" font-weight="400" stroke="#141414" stroke-width="0.18" stroke-linejoin="round" fill="#141414">Equation derived AGB  (t/hm<tspan font-size="4.35" dy="-2.11">2</tspan><tspan dy="2.11">)</tspan></text>
<text transform="translate(302.7,372.7) rotate(-90)" textLength="69.5" lengthAdjust="spacingAndGlyphs" font-family="Liberation Serif, Times New Roman, serif" font-size="7" font-weight="400" stroke="#141414" stroke-width="0.18" stroke-linejoin="round" fill="#141414">RF-predict AGB(t/hm<tspan font-size="4.48" dy="-2.17">2</tspan><tspan dy="2.17">)</tspan></text>
<text x="410" y="390.1" textLength="16.9" lengthAdjust="spacingAndGlyphs" font-family="Liberation Sans, Arial, sans-serif" font-size="12.5" font-weight="400" stroke="#141414" stroke-width="0.18" stroke-linejoin="round" fill="#141414">c-3</text>
</g>
<g>
<line x1="29.4" y1="524.4" x2="142.1" y2="419.8" stroke="#c8c8c8" stroke-width="0.9"/>
<line x1="47.5" y1="503.1" x2="134.15" y2="421.01" stroke="#c8eec4" stroke-width="3.6"/>
<line x1="47.5" y1="503.1" x2="134.15" y2="421.01" stroke="#3e9e3e" stroke-width="0.95"/>
<circle cx="135.67" cy="423.8" r="1.7" fill="none" stroke="#1c1c1c" stroke-width="1"/>
<circle cx="120.97" cy="429.37" r="1.7" fill="none" stroke="#1c1c1c" stroke-width="1"/>
<circle cx="100.45" cy="446.1" r="1.7" fill="none" stroke="#1c1c1c" stroke-width="1"/>
<circle cx="77.39" cy="449.64" r="1.7" fill="none" stroke="#1c1c1c" stroke-width="1"/>
<circle cx="86.26" cy="475.23" r="1.7" fill="none" stroke="#1c1c1c" stroke-width="1"/>
<circle cx="78.66" cy="477.51" r="1.7" fill="none" stroke="#1c1c1c" stroke-width="1"/>
<circle cx="79.42" cy="479.79" r="1.7" fill="none" stroke="#1c1c1c" stroke-width="1"/>
<circle cx="77.14" cy="482.33" r="1.7" fill="none" stroke="#1c1c1c" stroke-width="1"/>
<circle cx="73.59" cy="486.38" r="1.7" fill="none" stroke="#1c1c1c" stroke-width="1"/>
<circle cx="69.28" cy="487.14" r="1.7" fill="none" stroke="#1c1c1c" stroke-width="1"/>
<circle cx="63.2" cy="489.42" r="1.7" fill="none" stroke="#1c1c1c" stroke-width="1"/>
<circle cx="47.5" cy="497.28" r="1.7" fill="none" stroke="#1c1c1c" stroke-width="1"/>
<rect x="29.4" y="419.8" width="112.7" height="104.6" fill="none" stroke="#333" stroke-width="1.25"/>
<line x1="51.94" y1="524.4" x2="51.94" y2="522.6" stroke="#3a3a3a" stroke-width="0.8"/>
<line x1="29.4" y1="503.48" x2="31.2" y2="503.48" stroke="#3a3a3a" stroke-width="0.8"/>
<line x1="74.48" y1="524.4" x2="74.48" y2="522.6" stroke="#3a3a3a" stroke-width="0.8"/>
<line x1="29.4" y1="482.56" x2="31.2" y2="482.56" stroke="#3a3a3a" stroke-width="0.8"/>
<line x1="97.02" y1="524.4" x2="97.02" y2="522.6" stroke="#3a3a3a" stroke-width="0.8"/>
<line x1="29.4" y1="461.64" x2="31.2" y2="461.64" stroke="#3a3a3a" stroke-width="0.8"/>
<line x1="119.56" y1="524.4" x2="119.56" y2="522.6" stroke="#3a3a3a" stroke-width="0.8"/>
<line x1="29.4" y1="440.72" x2="31.2" y2="440.72" stroke="#3a3a3a" stroke-width="0.8"/>
<text x="28.9" y="535" text-anchor="middle" textLength="4" lengthAdjust="spacingAndGlyphs" font-family="Liberation Serif, Times New Roman, serif" font-size="6.6" font-weight="700" fill="#141414">0</text>
<text x="21.8" y="526.64" text-anchor="end" textLength="4" lengthAdjust="spacingAndGlyphs" font-family="Liberation Serif, Times New Roman, serif" font-size="6.6" font-weight="700" fill="#141414">0</text>
<text x="51.44" y="535" text-anchor="middle" textLength="8" lengthAdjust="spacingAndGlyphs" font-family="Liberation Serif, Times New Roman, serif" font-size="6.6" font-weight="700" fill="#141414">50</text>
<text x="21.8" y="505.72" text-anchor="end" textLength="8" lengthAdjust="spacingAndGlyphs" font-family="Liberation Serif, Times New Roman, serif" font-size="6.6" font-weight="700" fill="#141414">50</text>
<text x="73.98" y="535" text-anchor="middle" textLength="12" lengthAdjust="spacingAndGlyphs" font-family="Liberation Serif, Times New Roman, serif" font-size="6.6" font-weight="700" fill="#141414">100</text>
<text x="21.8" y="484.8" text-anchor="end" textLength="12" lengthAdjust="spacingAndGlyphs" font-family="Liberation Serif, Times New Roman, serif" font-size="6.6" font-weight="700" fill="#141414">100</text>
<text x="96.52" y="535" text-anchor="middle" textLength="12" lengthAdjust="spacingAndGlyphs" font-family="Liberation Serif, Times New Roman, serif" font-size="6.6" font-weight="700" fill="#141414">150</text>
<text x="21.8" y="463.88" text-anchor="end" textLength="12" lengthAdjust="spacingAndGlyphs" font-family="Liberation Serif, Times New Roman, serif" font-size="6.6" font-weight="700" fill="#141414">150</text>
<text x="119.06" y="535" text-anchor="middle" textLength="12" lengthAdjust="spacingAndGlyphs" font-family="Liberation Serif, Times New Roman, serif" font-size="6.6" font-weight="700" fill="#141414">200</text>
<text x="21.8" y="442.96" text-anchor="end" textLength="12" lengthAdjust="spacingAndGlyphs" font-family="Liberation Serif, Times New Roman, serif" font-size="6.6" font-weight="700" fill="#141414">200</text>
<text x="141.6" y="535" text-anchor="middle" textLength="12" lengthAdjust="spacingAndGlyphs" font-family="Liberation Serif, Times New Roman, serif" font-size="6.6" font-weight="700" fill="#141414">250</text>
<text x="21.8" y="422.04" text-anchor="end" textLength="12" lengthAdjust="spacingAndGlyphs" font-family="Liberation Serif, Times New Roman, serif" font-size="6.6" font-weight="700" fill="#141414">250</text>
<text x="39.8" y="426.4" textLength="28.5" lengthAdjust="spacingAndGlyphs" font-family="Liberation Serif, Times New Roman, serif" font-size="6.4" font-weight="400" stroke="#141414" stroke-width="0.18" stroke-linejoin="round" fill="#141414">R<tspan font-size="4.1" dy="-1.98">2</tspan><tspan dy="1.98"> = 0.848</tspan></text>
<text x="35" y="434.5" textLength="39.1" lengthAdjust="spacingAndGlyphs" font-family="Liberation Serif, Times New Roman, serif" font-size="6.4" font-weight="400" stroke="#141414" stroke-width="0.18" stroke-linejoin="round" fill="#141414">RMSE=24.542</text>
<text x="42.1" y="544.2" textLength="83.3" lengthAdjust="spacingAndGlyphs" font-family="Liberation Serif, Times New Roman, serif" font-size="6.4" font-weight="400" stroke="#141414" stroke-width="0.18" stroke-linejoin="round" fill="#141414">Equation derived AGB   (t/hm<tspan font-size="4.1" dy="-1.98">2</tspan><tspan dy="1.98">)</tspan></text>
<text transform="translate(8.9,507.9) rotate(-90)" textLength="71.5" lengthAdjust="spacingAndGlyphs" font-family="Liberation Serif, Times New Roman, serif" font-size="6.6" font-weight="400" stroke="#141414" stroke-width="0.18" stroke-linejoin="round" fill="#141414">MLSR-predict AGB(t/hm<tspan font-size="4.22" dy="-2.05">2</tspan><tspan dy="2.05">)</tspan></text>
<text x="119.9" y="519" textLength="17" lengthAdjust="spacingAndGlyphs" font-family="Liberation Serif, Times New Roman, serif" font-size="13.12" font-weight="400" stroke="#141414" stroke-width="0.18" stroke-linejoin="round" fill="#141414">d-1</text>
</g>
<g>
<line x1="177.7" y1="527.4" x2="288.8" y2="422" stroke="#c8c8c8" stroke-width="0.9"/>
<line x1="204.63" y1="502.89" x2="285.02" y2="443.9" stroke="#c8eec4" stroke-width="3.6"/>
<line x1="204.63" y1="502.89" x2="285.02" y2="443.9" stroke="#3e9e3e" stroke-width="0.95"/>
<circle cx="278.05" cy="442.41" r="1.7" fill="none" stroke="#1c1c1c" stroke-width="1"/>
<circle cx="249.68" cy="456.1" r="1.7" fill="none" stroke="#1c1c1c" stroke-width="1"/>
<circle cx="261.62" cy="457.09" r="1.7" fill="none" stroke="#1c1c1c" stroke-width="1"/>
<circle cx="274.32" cy="458.83" r="1.7" fill="none" stroke="#1c1c1c" stroke-width="1"/>
<circle cx="237.23" cy="462.57" r="1.7" fill="none" stroke="#1c1c1c" stroke-width="1"/>
<circle cx="239.22" cy="468.79" r="1.7" fill="none" stroke="#1c1c1c" stroke-width="1"/>
<circle cx="230.76" cy="471.03" r="1.7" fill="none" stroke="#1c1c1c" stroke-width="1"/>
<circle cx="250.42" cy="470.78" r="1.7" fill="none" stroke="#1c1c1c" stroke-width="1"/>
<circle cx="237.73" cy="482.48" r="1.7" fill="none" stroke="#1c1c1c" stroke-width="1"/>
<circle cx="217.32" cy="491.93" r="1.7" fill="none" stroke="#1c1c1c" stroke-width="1"/>
<circle cx="209.11" cy="495.92" r="1.7" fill="none" stroke="#1c1c1c" stroke-width="1"/>
<circle cx="208.61" cy="496.91" r="1.7" fill="none" stroke="#1c1c1c" stroke-width="1"/>
<circle cx="209.86" cy="499.9" r="1.7" fill="none" stroke="#1c1c1c" stroke-width="1"/>
<circle cx="205.38" cy="501.64" r="1.7" fill="none" stroke="#1c1c1c" stroke-width="1"/>
<circle cx="217.57" cy="501.14" r="1.7" fill="none" stroke="#1c1c1c" stroke-width="1"/>
<rect x="177.7" y="422" width="111.1" height="105.4" fill="none" stroke="#333" stroke-width="1.25"/>
<line x1="199.92" y1="527.4" x2="199.92" y2="525.6" stroke="#3a3a3a" stroke-width="0.8"/>
<line x1="177.7" y1="506.32" x2="179.5" y2="506.32" stroke="#3a3a3a" stroke-width="0.8"/>
<line x1="222.14" y1="527.4" x2="222.14" y2="525.6" stroke="#3a3a3a" stroke-width="0.8"/>
<line x1="177.7" y1="485.24" x2="179.5" y2="485.24" stroke="#3a3a3a" stroke-width="0.8"/>
<line x1="244.36" y1="527.4" x2="244.36" y2="525.6" stroke="#3a3a3a" stroke-width="0.8"/>
<line x1="177.7" y1="464.16" x2="179.5" y2="464.16" stroke="#3a3a3a" stroke-width="0.8"/>
<line x1="266.58" y1="527.4" x2="266.58" y2="525.6" stroke="#3a3a3a" stroke-width="0.8"/>
<line x1="177.7" y1="443.08" x2="179.5" y2="443.08" stroke="#3a3a3a" stroke-width="0.8"/>
<text x="177.2" y="536.5" text-anchor="middle" font-family="Liberation Serif, Times New Roman, serif" font-size="6.6" font-weight="700" fill="#141414">0</text>
<text x="170.7" y="529.64" text-anchor="end" font-family="Liberation Serif, Times New Roman, serif" font-size="6.6" font-weight="700" fill="#141414">0</text>
<text x="199.42" y="536.5" text-anchor="middle" font-family="Liberation Serif, Times New Roman, serif" font-size="6.6" font-weight="700" fill="#141414">50</text>
<text x="170.7" y="508.56" text-anchor="end" font-family="Liberation Serif, Times New Roman, serif" font-size="6.6" font-weight="700" fill="#141414">50</text>
<text x="221.64" y="536.5" text-anchor="middle" font-family="Liberation Serif, Times New Roman, serif" font-size="6.6" font-weight="700" fill="#141414">100</text>
<text x="170.7" y="487.48" text-anchor="end" font-family="Liberation Serif, Times New Roman, serif" font-size="6.6" font-weight="700" fill="#141414">100</text>
<text x="243.86" y="536.5" text-anchor="middle" font-family="Liberation Serif, Times New Roman, serif" font-size="6.6" font-weight="700" fill="#141414">150</text>
<text x="170.7" y="466.4" text-anchor="end" font-family="Liberation Serif, Times New Roman, serif" font-size="6.6" font-weight="700" fill="#141414">150</text>
<text x="266.08" y="536.5" text-anchor="middle" font-family="Liberation Serif, Times New Roman, serif" font-size="6.6" font-weight="700" fill="#141414">200</text>
<text x="170.7" y="445.32" text-anchor="end" font-family="Liberation Serif, Times New Roman, serif" font-size="6.6" font-weight="700" fill="#141414">200</text>
<text x="288.3" y="536.5" text-anchor="middle" font-family="Liberation Serif, Times New Roman, serif" font-size="6.6" font-weight="700" fill="#141414">250</text>
<text x="170.7" y="424.24" text-anchor="end" font-family="Liberation Serif, Times New Roman, serif" font-size="6.6" font-weight="700" fill="#141414">250</text>
<text x="188.1" y="431.5" textLength="28.9" lengthAdjust="spacingAndGlyphs" font-family="Liberation Serif, Times New Roman, serif" font-size="6" font-weight="700" fill="#141414">R<tspan font-size="3.84" dy="-1.86">2</tspan><tspan dy="1.86"> = 0.857</tspan></text>
<text x="182.7" y="439.2" textLength="39.7" lengthAdjust="spacingAndGlyphs" font-family="Liberation Serif, Times New Roman, serif" font-size="6" font-weight="700" fill="#141414">RMSE= 22.140</text>
<text x="182.4" y="544.2" textLength="85.6" lengthAdjust="spacingAndGlyphs" font-family="Liberation Serif, Times New Roman, serif" font-size="6.8" font-weight="400" stroke="#141414" stroke-width="0.18" stroke-linejoin="round" fill="#141414">Equation derived AGB(t/hm<tspan font-size="4.35" dy="-2.11">2</tspan><tspan dy="2.11">)</tspan></text>
<text transform="translate(157.7,505.9) rotate(-90)" textLength="72.9" lengthAdjust="spacingAndGlyphs" font-family="Liberation Serif, Times New Roman, serif" font-size="6.2" font-weight="400" stroke="#141414" stroke-width="0.18" stroke-linejoin="round" fill="#141414">BP-predicted AGB(t/hm<tspan font-size="3.97" dy="-1.92">2</tspan><tspan dy="1.92">)</tspan></text>
<text x="267.1" y="521.1" textLength="17.5" lengthAdjust="spacingAndGlyphs" font-family="Liberation Sans, Arial, sans-serif" font-size="12.3" font-weight="400" stroke="#141414" stroke-width="0.18" stroke-linejoin="round" fill="#141414">d-2</text>
</g>
<g>
<line x1="318.8" y1="527.4" x2="435.2" y2="421.1" stroke="#c8c8c8" stroke-width="0.9"/>
<line x1="348.39" y1="504.75" x2="421.48" y2="430.88" stroke="#c8eec4" stroke-width="3.6"/>
<line x1="348.39" y1="504.75" x2="421.48" y2="430.88" stroke="#3e9e3e" stroke-width="0.95"/>
<circle cx="421.74" cy="430.1" r="1.7" fill="none" stroke="#1c1c1c" stroke-width="1"/>
<circle cx="414.71" cy="440.77" r="1.7" fill="none" stroke="#1c1c1c" stroke-width="1"/>
<circle cx="387.66" cy="462.87" r="1.7" fill="none" stroke="#1c1c1c" stroke-width="1"/>
<circle cx="371.28" cy="474.84" r="1.7" fill="none" stroke="#1c1c1c" stroke-width="1"/>
<circle cx="377.26" cy="482.38" r="1.7" fill="none" stroke="#1c1c1c" stroke-width="1"/>
<circle cx="365.82" cy="482.12" r="1.7" fill="none" stroke="#1c1c1c" stroke-width="1"/>
<circle cx="369.2" cy="480.3" r="1.7" fill="none" stroke="#1c1c1c" stroke-width="1"/>
<circle cx="370.76" cy="483.68" r="1.7" fill="none" stroke="#1c1c1c" stroke-width="1"/>
<circle cx="364.78" cy="485.76" r="1.7" fill="none" stroke="#1c1c1c" stroke-width="1"/>
<circle cx="361.39" cy="489.14" r="1.7" fill="none" stroke="#1c1c1c" stroke-width="1"/>
<circle cx="360.61" cy="489.92" r="1.7" fill="none" stroke="#1c1c1c" stroke-width="1"/>
<circle cx="361.13" cy="491.48" r="1.7" fill="none" stroke="#1c1c1c" stroke-width="1"/>
<circle cx="356.45" cy="495.91" r="1.7" fill="none" stroke="#1c1c1c" stroke-width="1"/>
<circle cx="360.09" cy="498.51" r="1.7" fill="none" stroke="#1c1c1c" stroke-width="1"/>
<circle cx="348.65" cy="509.95" r="1.7" fill="none" stroke="#1c1c1c" stroke-width="1"/>
<rect x="318.8" y="421.1" width="116.4" height="106.3" fill="none" stroke="#333" stroke-width="1.25"/>
<line x1="342.08" y1="527.4" x2="342.08" y2="525.6" stroke="#3a3a3a" stroke-width="0.8"/>
<line x1="318.8" y1="506.14" x2="320.6" y2="506.14" stroke="#3a3a3a" stroke-width="0.8"/>
<line x1="365.36" y1="527.4" x2="365.36" y2="525.6" stroke="#3a3a3a" stroke-width="0.8"/>
<line x1="318.8" y1="484.88" x2="320.6" y2="484.88" stroke="#3a3a3a" stroke-width="0.8"/>
<line x1="388.64" y1="527.4" x2="388.64" y2="525.6" stroke="#3a3a3a" stroke-width="0.8"/>
<line x1="318.8" y1="463.62" x2="320.6" y2="463.62" stroke="#3a3a3a" stroke-width="0.8"/>
<line x1="411.92" y1="527.4" x2="411.92" y2="525.6" stroke="#3a3a3a" stroke-width="0.8"/>
<line x1="318.8" y1="442.36" x2="320.6" y2="442.36" stroke="#3a3a3a" stroke-width="0.8"/>
<text x="318.3" y="538.8" text-anchor="middle" font-family="Liberation Serif, Times New Roman, serif" font-size="7" font-weight="700" fill="#141414">0</text>
<text x="314.5" y="529.78" text-anchor="end" font-family="Liberation Serif, Times New Roman, serif" font-size="7" font-weight="700" fill="#141414">0</text>
<text x="341.58" y="538.8" text-anchor="middle" font-family="Liberation Serif, Times New Roman, serif" font-size="7" font-weight="700" fill="#141414">50</text>
<text x="314.5" y="508.52" text-anchor="end" font-family="Liberation Serif, Times New Roman, serif" font-size="7" font-weight="700" fill="#141414">50</text>
<text x="364.86" y="538.8" text-anchor="middle" font-family="Liberation Serif, Times New Roman, serif" font-size="7" font-weight="700" fill="#141414">100</text>
<text x="314.5" y="487.26" text-anchor="end" font-family="Liberation Serif, Times New Roman, serif" font-size="7" font-weight="700" fill="#141414">100</text>
<text x="388.14" y="538.8" text-anchor="middle" font-family="Liberation Serif, Times New Roman, serif" font-size="7" font-weight="700" fill="#141414">150</text>
<text x="314.5" y="466" text-anchor="end" font-family="Liberation Serif, Times New Roman, serif" font-size="7" font-weight="700" fill="#141414">150</text>
<text x="411.42" y="538.8" text-anchor="middle" font-family="Liberation Serif, Times New Roman, serif" font-size="7" font-weight="700" fill="#141414">200</text>
<text x="314.5" y="444.74" text-anchor="end" font-family="Liberation Serif, Times New Roman, serif" font-size="7" font-weight="700" fill="#141414">200</text>
<text x="434.7" y="538.8" text-anchor="middle" font-family="Liberation Serif, Times New Roman, serif" font-size="7" font-weight="700" fill="#141414">250</text>
<text x="314.5" y="423.48" text-anchor="end" font-family="Liberation Serif, Times New Roman, serif" font-size="7" font-weight="700" fill="#141414">250</text>
<text x="326.7" y="427.4" textLength="29.7" lengthAdjust="spacingAndGlyphs" font-family="Liberation Serif, Times New Roman, serif" font-size="6.4" font-weight="400" stroke="#141414" stroke-width="0.18" stroke-linejoin="round" fill="#141414">R<tspan font-size="4.1" dy="-1.98">2</tspan><tspan dy="1.98"> = 0.957</tspan></text>
<text x="320.7" y="434.8" textLength="41.7" lengthAdjust="spacingAndGlyphs" font-family="Liberation Serif, Times New Roman, serif" font-size="6.4" font-weight="400" stroke="#141414" stroke-width="0.18" stroke-linejoin="round" fill="#141414">RMSE=11.117</text>
<text x="338.2" y="545.9" textLength="85.5" lengthAdjust="spacingAndGlyphs" font-family="Liberation Serif, Times New Roman, serif" font-size="6.4" font-weight="400" stroke="#141414" stroke-width="0.18" stroke-linejoin="round" fill="#141414">Equation derived AGB  (t/hm<tspan font-size="4.1" dy="-1.98">2</tspan><tspan dy="1.98">)</tspan></text>
<text transform="translate(300.3,507.7) rotate(-90)" textLength="64.2" lengthAdjust="spacingAndGlyphs" font-family="Liberation Serif, Times New Roman, serif" font-size="6.9" font-weight="400" stroke="#141414" stroke-width="0.18" stroke-linejoin="round" fill="#141414">RF-predict AGB(t/hm<tspan font-size="4.42" dy="-2.14">2</tspan><tspan dy="2.14">)</tspan></text>
<text x="410" y="522.4" textLength="17.8" lengthAdjust="spacingAndGlyphs" font-family="Liberation Sans, Arial, sans-serif" font-size="12.2" font-weight="400" stroke="#141414" stroke-width="0.18" stroke-linejoin="round" fill="#141414">d-3</text>
</g>
</g>
</svg>
</body></html>
